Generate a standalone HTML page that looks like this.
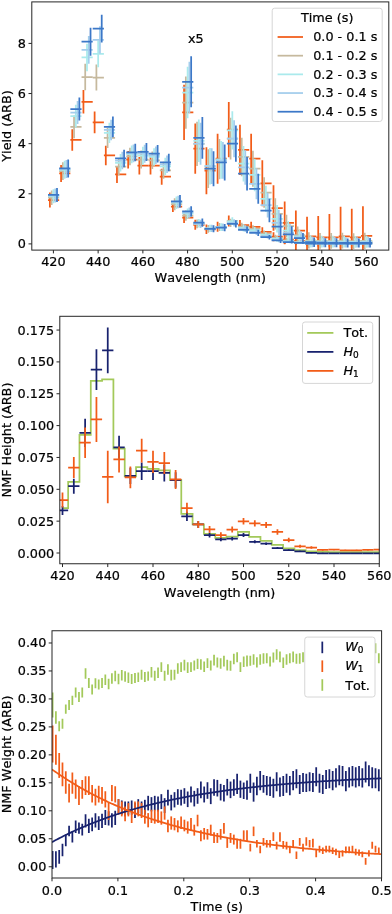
<!DOCTYPE html>
<html><head><meta charset="utf-8"><title>NMF spectra figure</title>
<style>
html,body{margin:0;padding:0;background:#fff;}
svg{display:block;font-family:'DejaVu Sans', 'Liberation Sans', sans-serif;fill:#000;}
svg text{fill:#000;stroke:#000;stroke-width:0.22px;font-kerning:none;}
</style></head><body>
<svg width="392" height="914" viewBox="0 0 392 914" font-family='"DejaVu Sans", "Liberation Sans", sans-serif'>
<rect x="0" y="0" width="392" height="914" fill="#fff"/>
<clipPath id="c1"><rect x="31.8" y="1.9" width="357.0" height="248.2"/></clipPath>
<g clip-path="url(#c1)">
<line x1="48.00" y1="200.05" x2="59.18" y2="200.05" stroke="#F25C18" stroke-width="1.75" />
<line x1="49.90" y1="207.56" x2="49.90" y2="192.53" stroke="#F25C18" stroke-width="1.75" />
<line x1="59.18" y1="173.48" x2="70.36" y2="173.48" stroke="#F25C18" stroke-width="1.75" />
<line x1="61.08" y1="182.00" x2="61.08" y2="164.96" stroke="#F25C18" stroke-width="1.75" />
<line x1="70.36" y1="139.90" x2="81.54" y2="139.90" stroke="#F25C18" stroke-width="1.75" />
<line x1="72.26" y1="150.68" x2="72.26" y2="129.13" stroke="#F25C18" stroke-width="1.75" />
<line x1="81.54" y1="101.81" x2="92.72" y2="101.81" stroke="#F25C18" stroke-width="1.75" />
<line x1="83.44" y1="113.59" x2="83.44" y2="90.03" stroke="#F25C18" stroke-width="1.75" />
<line x1="92.72" y1="122.36" x2="103.90" y2="122.36" stroke="#F25C18" stroke-width="1.75" />
<line x1="94.62" y1="133.13" x2="94.62" y2="111.58" stroke="#F25C18" stroke-width="1.75" />
<line x1="103.90" y1="155.44" x2="115.08" y2="155.44" stroke="#F25C18" stroke-width="1.75" />
<line x1="105.80" y1="165.21" x2="105.80" y2="145.66" stroke="#F25C18" stroke-width="1.75" />
<line x1="115.08" y1="174.48" x2="126.26" y2="174.48" stroke="#F25C18" stroke-width="1.75" />
<line x1="116.98" y1="183.00" x2="116.98" y2="165.96" stroke="#F25C18" stroke-width="1.75" />
<line x1="126.26" y1="159.70" x2="137.44" y2="159.70" stroke="#F25C18" stroke-width="1.75" />
<line x1="128.16" y1="168.47" x2="128.16" y2="150.93" stroke="#F25C18" stroke-width="1.75" />
<line x1="137.44" y1="165.71" x2="148.62" y2="165.71" stroke="#F25C18" stroke-width="1.75" />
<line x1="139.34" y1="174.48" x2="139.34" y2="156.94" stroke="#F25C18" stroke-width="1.75" />
<line x1="148.62" y1="165.71" x2="159.80" y2="165.71" stroke="#F25C18" stroke-width="1.75" />
<line x1="150.52" y1="174.48" x2="150.52" y2="156.94" stroke="#F25C18" stroke-width="1.75" />
<line x1="159.80" y1="176.74" x2="170.98" y2="176.74" stroke="#F25C18" stroke-width="1.75" />
<line x1="161.70" y1="184.76" x2="161.70" y2="168.72" stroke="#F25C18" stroke-width="1.75" />
<line x1="170.98" y1="206.56" x2="182.16" y2="206.56" stroke="#F25C18" stroke-width="1.75" />
<line x1="172.88" y1="212.07" x2="172.88" y2="201.05" stroke="#F25C18" stroke-width="1.75" />
<line x1="182.16" y1="217.59" x2="193.34" y2="217.59" stroke="#F25C18" stroke-width="1.75" />
<line x1="184.06" y1="223.10" x2="184.06" y2="212.07" stroke="#F25C18" stroke-width="1.75" />
<line x1="193.34" y1="224.85" x2="204.52" y2="224.85" stroke="#F25C18" stroke-width="1.75" />
<line x1="195.24" y1="229.87" x2="195.24" y2="219.84" stroke="#F25C18" stroke-width="1.75" />
<line x1="204.52" y1="229.26" x2="215.70" y2="229.26" stroke="#F25C18" stroke-width="1.75" />
<line x1="206.42" y1="233.98" x2="206.42" y2="224.55" stroke="#F25C18" stroke-width="1.75" />
<line x1="215.70" y1="226.86" x2="226.88" y2="226.86" stroke="#F25C18" stroke-width="1.75" />
<line x1="217.60" y1="231.87" x2="217.60" y2="221.85" stroke="#F25C18" stroke-width="1.75" />
<line x1="226.88" y1="221.05" x2="238.06" y2="221.05" stroke="#F25C18" stroke-width="1.75" />
<line x1="228.78" y1="226.56" x2="228.78" y2="215.53" stroke="#F25C18" stroke-width="1.75" />
<line x1="238.06" y1="225.11" x2="249.24" y2="225.11" stroke="#F25C18" stroke-width="1.75" />
<line x1="239.96" y1="230.12" x2="239.96" y2="220.09" stroke="#F25C18" stroke-width="1.75" />
<line x1="249.24" y1="226.86" x2="260.42" y2="226.86" stroke="#F25C18" stroke-width="1.75" />
<line x1="251.14" y1="231.87" x2="251.14" y2="221.85" stroke="#F25C18" stroke-width="1.75" />
<line x1="260.42" y1="231.77" x2="271.60" y2="231.77" stroke="#F25C18" stroke-width="1.75" />
<line x1="262.32" y1="236.38" x2="262.32" y2="227.16" stroke="#F25C18" stroke-width="1.75" />
<line x1="271.60" y1="236.73" x2="282.78" y2="236.73" stroke="#F25C18" stroke-width="1.75" />
<line x1="273.50" y1="241.29" x2="273.50" y2="232.17" stroke="#F25C18" stroke-width="1.75" />
<line x1="282.78" y1="239.69" x2="293.96" y2="239.69" stroke="#F25C18" stroke-width="1.75" />
<line x1="284.68" y1="243.95" x2="284.68" y2="235.43" stroke="#F25C18" stroke-width="1.75" />
<line x1="293.96" y1="241.24" x2="305.14" y2="241.24" stroke="#F25C18" stroke-width="1.75" />
<line x1="295.86" y1="245.25" x2="295.86" y2="237.23" stroke="#F25C18" stroke-width="1.75" />
<line x1="305.14" y1="242.40" x2="316.32" y2="242.40" stroke="#F25C18" stroke-width="1.75" />
<line x1="307.04" y1="246.31" x2="307.04" y2="238.49" stroke="#F25C18" stroke-width="1.75" />
<line x1="316.32" y1="242.60" x2="327.50" y2="242.60" stroke="#F25C18" stroke-width="1.75" />
<line x1="318.22" y1="246.86" x2="318.22" y2="238.34" stroke="#F25C18" stroke-width="1.75" />
<line x1="327.50" y1="242.60" x2="338.68" y2="242.60" stroke="#F25C18" stroke-width="1.75" />
<line x1="329.40" y1="247.26" x2="329.40" y2="237.94" stroke="#F25C18" stroke-width="1.75" />
<line x1="338.68" y1="242.40" x2="349.86" y2="242.40" stroke="#F25C18" stroke-width="1.75" />
<line x1="340.58" y1="248.31" x2="340.58" y2="236.48" stroke="#F25C18" stroke-width="1.75" />
<line x1="349.86" y1="242.60" x2="361.04" y2="242.60" stroke="#F25C18" stroke-width="1.75" />
<line x1="351.76" y1="248.31" x2="351.76" y2="236.88" stroke="#F25C18" stroke-width="1.75" />
<line x1="361.04" y1="242.30" x2="372.22" y2="242.30" stroke="#F25C18" stroke-width="1.75" />
<line x1="362.94" y1="248.21" x2="362.94" y2="236.38" stroke="#F25C18" stroke-width="1.75" />
<line x1="182.16" y1="112.34" x2="193.34" y2="112.34" stroke="#F25C18" stroke-width="1.75" />
<line x1="184.06" y1="139.90" x2="184.06" y2="84.77" stroke="#F25C18" stroke-width="1.75" />
<line x1="193.34" y1="148.67" x2="204.52" y2="148.67" stroke="#F25C18" stroke-width="1.75" />
<line x1="195.24" y1="173.73" x2="195.24" y2="123.61" stroke="#F25C18" stroke-width="1.75" />
<line x1="204.52" y1="170.72" x2="215.70" y2="170.72" stroke="#F25C18" stroke-width="1.75" />
<line x1="206.42" y1="194.28" x2="206.42" y2="147.17" stroke="#F25C18" stroke-width="1.75" />
<line x1="215.70" y1="158.70" x2="226.88" y2="158.70" stroke="#F25C18" stroke-width="1.75" />
<line x1="217.60" y1="183.76" x2="217.60" y2="133.64" stroke="#F25C18" stroke-width="1.75" />
<line x1="226.88" y1="129.63" x2="238.06" y2="129.63" stroke="#F25C18" stroke-width="1.75" />
<line x1="228.78" y1="157.19" x2="228.78" y2="102.06" stroke="#F25C18" stroke-width="1.75" />
<line x1="238.06" y1="149.93" x2="249.24" y2="149.93" stroke="#F25C18" stroke-width="1.75" />
<line x1="239.96" y1="174.99" x2="239.96" y2="124.87" stroke="#F25C18" stroke-width="1.75" />
<line x1="249.24" y1="158.70" x2="260.42" y2="158.70" stroke="#F25C18" stroke-width="1.75" />
<line x1="251.14" y1="183.76" x2="251.14" y2="133.64" stroke="#F25C18" stroke-width="1.75" />
<line x1="260.42" y1="183.25" x2="271.60" y2="183.25" stroke="#F25C18" stroke-width="1.75" />
<line x1="262.32" y1="206.31" x2="262.32" y2="160.20" stroke="#F25C18" stroke-width="1.75" />
<line x1="271.60" y1="208.06" x2="282.78" y2="208.06" stroke="#F25C18" stroke-width="1.75" />
<line x1="273.50" y1="230.87" x2="273.50" y2="185.26" stroke="#F25C18" stroke-width="1.75" />
<line x1="282.78" y1="222.85" x2="293.96" y2="222.85" stroke="#F25C18" stroke-width="1.75" />
<line x1="284.68" y1="244.15" x2="284.68" y2="201.55" stroke="#F25C18" stroke-width="1.75" />
<line x1="293.96" y1="230.62" x2="305.14" y2="230.62" stroke="#F25C18" stroke-width="1.75" />
<line x1="295.86" y1="250.67" x2="295.86" y2="210.57" stroke="#F25C18" stroke-width="1.75" />
<line x1="305.14" y1="236.38" x2="316.32" y2="236.38" stroke="#F25C18" stroke-width="1.75" />
<line x1="307.04" y1="255.93" x2="307.04" y2="216.84" stroke="#F25C18" stroke-width="1.75" />
<line x1="316.32" y1="237.38" x2="327.50" y2="237.38" stroke="#F25C18" stroke-width="1.75" />
<line x1="318.22" y1="258.69" x2="318.22" y2="216.08" stroke="#F25C18" stroke-width="1.75" />
<line x1="327.50" y1="237.38" x2="338.68" y2="237.38" stroke="#F25C18" stroke-width="1.75" />
<line x1="329.40" y1="260.69" x2="329.40" y2="214.08" stroke="#F25C18" stroke-width="1.75" />
<line x1="338.68" y1="236.38" x2="349.86" y2="236.38" stroke="#F25C18" stroke-width="1.75" />
<line x1="340.58" y1="265.95" x2="340.58" y2="206.81" stroke="#F25C18" stroke-width="1.75" />
<line x1="349.86" y1="237.38" x2="361.04" y2="237.38" stroke="#F25C18" stroke-width="1.75" />
<line x1="351.76" y1="265.95" x2="351.76" y2="208.82" stroke="#F25C18" stroke-width="1.75" />
<line x1="361.04" y1="235.88" x2="372.22" y2="235.88" stroke="#F25C18" stroke-width="1.75" />
<line x1="362.94" y1="265.45" x2="362.94" y2="206.31" stroke="#F25C18" stroke-width="1.75" />
<line x1="48.00" y1="197.73" x2="59.18" y2="197.73" stroke="#C6B99E" stroke-width="1.75" />
<line x1="51.67" y1="204.90" x2="51.67" y2="190.57" stroke="#C6B99E" stroke-width="1.75" />
<line x1="59.18" y1="171.23" x2="70.36" y2="171.23" stroke="#C6B99E" stroke-width="1.75" />
<line x1="62.85" y1="180.10" x2="62.85" y2="162.35" stroke="#C6B99E" stroke-width="1.75" />
<line x1="70.36" y1="126.87" x2="81.54" y2="126.87" stroke="#C6B99E" stroke-width="1.75" />
<line x1="74.04" y1="138.17" x2="74.04" y2="115.57" stroke="#C6B99E" stroke-width="1.75" />
<line x1="81.54" y1="77.00" x2="92.72" y2="77.00" stroke="#C6B99E" stroke-width="1.75" />
<line x1="85.22" y1="90.36" x2="85.22" y2="63.64" stroke="#C6B99E" stroke-width="1.75" />
<line x1="92.72" y1="77.50" x2="103.90" y2="77.50" stroke="#C6B99E" stroke-width="1.75" />
<line x1="96.40" y1="90.38" x2="96.40" y2="64.62" stroke="#C6B99E" stroke-width="1.75" />
<line x1="103.90" y1="137.90" x2="115.08" y2="137.90" stroke="#C6B99E" stroke-width="1.75" />
<line x1="107.58" y1="148.02" x2="107.58" y2="127.77" stroke="#C6B99E" stroke-width="1.75" />
<line x1="115.08" y1="166.72" x2="126.26" y2="166.72" stroke="#C6B99E" stroke-width="1.75" />
<line x1="118.76" y1="175.41" x2="118.76" y2="158.02" stroke="#C6B99E" stroke-width="1.75" />
<line x1="126.26" y1="156.43" x2="137.44" y2="156.43" stroke="#C6B99E" stroke-width="1.75" />
<line x1="129.94" y1="165.20" x2="129.94" y2="147.66" stroke="#C6B99E" stroke-width="1.75" />
<line x1="137.44" y1="159.51" x2="148.62" y2="159.51" stroke="#C6B99E" stroke-width="1.75" />
<line x1="141.12" y1="168.46" x2="141.12" y2="150.56" stroke="#C6B99E" stroke-width="1.75" />
<line x1="148.62" y1="160.30" x2="159.80" y2="160.30" stroke="#C6B99E" stroke-width="1.75" />
<line x1="152.30" y1="169.07" x2="152.30" y2="151.53" stroke="#C6B99E" stroke-width="1.75" />
<line x1="159.80" y1="170.31" x2="170.98" y2="170.31" stroke="#C6B99E" stroke-width="1.75" />
<line x1="163.48" y1="178.86" x2="163.48" y2="161.77" stroke="#C6B99E" stroke-width="1.75" />
<line x1="170.98" y1="204.19" x2="182.16" y2="204.19" stroke="#C6B99E" stroke-width="1.75" />
<line x1="174.66" y1="210.23" x2="174.66" y2="198.15" stroke="#C6B99E" stroke-width="1.75" />
<line x1="182.16" y1="215.63" x2="193.34" y2="215.63" stroke="#C6B99E" stroke-width="1.75" />
<line x1="185.84" y1="220.86" x2="185.84" y2="210.40" stroke="#C6B99E" stroke-width="1.75" />
<line x1="193.34" y1="223.88" x2="204.52" y2="223.88" stroke="#C6B99E" stroke-width="1.75" />
<line x1="197.02" y1="228.30" x2="197.02" y2="219.47" stroke="#C6B99E" stroke-width="1.75" />
<line x1="204.52" y1="228.86" x2="215.70" y2="228.86" stroke="#C6B99E" stroke-width="1.75" />
<line x1="208.19" y1="232.73" x2="208.19" y2="224.99" stroke="#C6B99E" stroke-width="1.75" />
<line x1="215.70" y1="226.96" x2="226.88" y2="226.96" stroke="#C6B99E" stroke-width="1.75" />
<line x1="219.38" y1="230.99" x2="219.38" y2="222.93" stroke="#C6B99E" stroke-width="1.75" />
<line x1="226.88" y1="222.85" x2="238.06" y2="222.85" stroke="#C6B99E" stroke-width="1.75" />
<line x1="230.56" y1="227.03" x2="230.56" y2="218.67" stroke="#C6B99E" stroke-width="1.75" />
<line x1="238.06" y1="226.51" x2="249.24" y2="226.51" stroke="#C6B99E" stroke-width="1.75" />
<line x1="241.74" y1="230.36" x2="241.74" y2="222.65" stroke="#C6B99E" stroke-width="1.75" />
<line x1="249.24" y1="228.86" x2="260.42" y2="228.86" stroke="#C6B99E" stroke-width="1.75" />
<line x1="252.92" y1="232.47" x2="252.92" y2="225.26" stroke="#C6B99E" stroke-width="1.75" />
<line x1="260.42" y1="233.63" x2="271.60" y2="233.63" stroke="#C6B99E" stroke-width="1.75" />
<line x1="264.09" y1="236.66" x2="264.09" y2="230.59" stroke="#C6B99E" stroke-width="1.75" />
<line x1="271.60" y1="237.89" x2="282.78" y2="237.89" stroke="#C6B99E" stroke-width="1.75" />
<line x1="275.27" y1="241.01" x2="275.27" y2="234.76" stroke="#C6B99E" stroke-width="1.75" />
<line x1="282.78" y1="240.34" x2="293.96" y2="240.34" stroke="#C6B99E" stroke-width="1.75" />
<line x1="286.45" y1="242.62" x2="286.45" y2="238.06" stroke="#C6B99E" stroke-width="1.75" />
<line x1="293.96" y1="242.15" x2="305.14" y2="242.15" stroke="#C6B99E" stroke-width="1.75" />
<line x1="297.63" y1="243.87" x2="297.63" y2="240.42" stroke="#C6B99E" stroke-width="1.75" />
<line x1="305.14" y1="243.20" x2="316.32" y2="243.20" stroke="#C6B99E" stroke-width="1.75" />
<line x1="308.81" y1="244.83" x2="308.81" y2="241.57" stroke="#C6B99E" stroke-width="1.75" />
<line x1="316.32" y1="243.30" x2="327.50" y2="243.30" stroke="#C6B99E" stroke-width="1.75" />
<line x1="319.99" y1="244.88" x2="319.99" y2="241.72" stroke="#C6B99E" stroke-width="1.75" />
<line x1="327.50" y1="243.30" x2="338.68" y2="243.30" stroke="#C6B99E" stroke-width="1.75" />
<line x1="331.17" y1="244.88" x2="331.17" y2="241.72" stroke="#C6B99E" stroke-width="1.75" />
<line x1="338.68" y1="243.25" x2="349.86" y2="243.25" stroke="#C6B99E" stroke-width="1.75" />
<line x1="342.35" y1="244.83" x2="342.35" y2="241.67" stroke="#C6B99E" stroke-width="1.75" />
<line x1="349.86" y1="243.35" x2="361.04" y2="243.35" stroke="#C6B99E" stroke-width="1.75" />
<line x1="353.53" y1="244.93" x2="353.53" y2="241.77" stroke="#C6B99E" stroke-width="1.75" />
<line x1="361.04" y1="243.30" x2="372.22" y2="243.30" stroke="#C6B99E" stroke-width="1.75" />
<line x1="364.71" y1="244.93" x2="364.71" y2="241.67" stroke="#C6B99E" stroke-width="1.75" />
<line x1="182.16" y1="102.56" x2="193.34" y2="102.56" stroke="#C6B99E" stroke-width="1.75" />
<line x1="185.84" y1="128.72" x2="185.84" y2="76.40" stroke="#C6B99E" stroke-width="1.75" />
<line x1="193.34" y1="143.82" x2="204.52" y2="143.82" stroke="#C6B99E" stroke-width="1.75" />
<line x1="197.02" y1="165.90" x2="197.02" y2="121.75" stroke="#C6B99E" stroke-width="1.75" />
<line x1="204.52" y1="168.72" x2="215.70" y2="168.72" stroke="#C6B99E" stroke-width="1.75" />
<line x1="208.19" y1="188.07" x2="208.19" y2="149.37" stroke="#C6B99E" stroke-width="1.75" />
<line x1="215.70" y1="159.20" x2="226.88" y2="159.20" stroke="#C6B99E" stroke-width="1.75" />
<line x1="219.38" y1="179.35" x2="219.38" y2="139.05" stroke="#C6B99E" stroke-width="1.75" />
<line x1="226.88" y1="138.65" x2="238.06" y2="138.65" stroke="#C6B99E" stroke-width="1.75" />
<line x1="230.56" y1="159.55" x2="230.56" y2="117.75" stroke="#C6B99E" stroke-width="1.75" />
<line x1="238.06" y1="156.94" x2="249.24" y2="156.94" stroke="#C6B99E" stroke-width="1.75" />
<line x1="241.74" y1="176.21" x2="241.74" y2="137.67" stroke="#C6B99E" stroke-width="1.75" />
<line x1="249.24" y1="168.72" x2="260.42" y2="168.72" stroke="#C6B99E" stroke-width="1.75" />
<line x1="252.92" y1="186.76" x2="252.92" y2="150.68" stroke="#C6B99E" stroke-width="1.75" />
<line x1="260.42" y1="192.53" x2="271.60" y2="192.53" stroke="#C6B99E" stroke-width="1.75" />
<line x1="264.09" y1="207.69" x2="264.09" y2="177.37" stroke="#C6B99E" stroke-width="1.75" />
<line x1="271.60" y1="213.83" x2="282.78" y2="213.83" stroke="#C6B99E" stroke-width="1.75" />
<line x1="275.27" y1="229.44" x2="275.27" y2="198.22" stroke="#C6B99E" stroke-width="1.75" />
<line x1="282.78" y1="226.11" x2="293.96" y2="226.11" stroke="#C6B99E" stroke-width="1.75" />
<line x1="286.45" y1="237.51" x2="286.45" y2="214.71" stroke="#C6B99E" stroke-width="1.75" />
<line x1="293.96" y1="235.13" x2="305.14" y2="235.13" stroke="#C6B99E" stroke-width="1.75" />
<line x1="297.63" y1="243.77" x2="297.63" y2="226.48" stroke="#C6B99E" stroke-width="1.75" />
<line x1="305.14" y1="240.39" x2="316.32" y2="240.39" stroke="#C6B99E" stroke-width="1.75" />
<line x1="308.81" y1="248.54" x2="308.81" y2="232.25" stroke="#C6B99E" stroke-width="1.75" />
<line x1="316.32" y1="240.89" x2="327.50" y2="240.89" stroke="#C6B99E" stroke-width="1.75" />
<line x1="319.99" y1="248.79" x2="319.99" y2="233.00" stroke="#C6B99E" stroke-width="1.75" />
<line x1="327.50" y1="240.89" x2="338.68" y2="240.89" stroke="#C6B99E" stroke-width="1.75" />
<line x1="331.17" y1="248.79" x2="331.17" y2="233.00" stroke="#C6B99E" stroke-width="1.75" />
<line x1="338.68" y1="240.64" x2="349.86" y2="240.64" stroke="#C6B99E" stroke-width="1.75" />
<line x1="342.35" y1="248.54" x2="342.35" y2="232.75" stroke="#C6B99E" stroke-width="1.75" />
<line x1="349.86" y1="241.14" x2="361.04" y2="241.14" stroke="#C6B99E" stroke-width="1.75" />
<line x1="353.53" y1="249.04" x2="353.53" y2="233.25" stroke="#C6B99E" stroke-width="1.75" />
<line x1="361.04" y1="240.89" x2="372.22" y2="240.89" stroke="#C6B99E" stroke-width="1.75" />
<line x1="364.71" y1="249.04" x2="364.71" y2="232.75" stroke="#C6B99E" stroke-width="1.75" />
<line x1="48.00" y1="196.29" x2="59.18" y2="196.29" stroke="#AAEAEC" stroke-width="1.75" />
<line x1="53.45" y1="203.37" x2="53.45" y2="189.22" stroke="#AAEAEC" stroke-width="1.75" />
<line x1="59.18" y1="169.82" x2="70.36" y2="169.82" stroke="#AAEAEC" stroke-width="1.75" />
<line x1="64.63" y1="178.78" x2="64.63" y2="160.86" stroke="#AAEAEC" stroke-width="1.75" />
<line x1="70.36" y1="116.09" x2="81.54" y2="116.09" stroke="#AAEAEC" stroke-width="1.75" />
<line x1="75.81" y1="127.53" x2="75.81" y2="104.66" stroke="#AAEAEC" stroke-width="1.75" />
<line x1="81.54" y1="57.45" x2="92.72" y2="57.45" stroke="#AAEAEC" stroke-width="1.75" />
<line x1="86.99" y1="71.22" x2="86.99" y2="43.69" stroke="#AAEAEC" stroke-width="1.75" />
<line x1="92.72" y1="53.95" x2="103.90" y2="53.95" stroke="#AAEAEC" stroke-width="1.75" />
<line x1="98.17" y1="67.37" x2="98.17" y2="40.52" stroke="#AAEAEC" stroke-width="1.75" />
<line x1="103.90" y1="132.88" x2="115.08" y2="132.88" stroke="#AAEAEC" stroke-width="1.75" />
<line x1="109.35" y1="143.10" x2="109.35" y2="122.67" stroke="#AAEAEC" stroke-width="1.75" />
<line x1="115.08" y1="162.78" x2="126.26" y2="162.78" stroke="#AAEAEC" stroke-width="1.75" />
<line x1="120.53" y1="171.52" x2="120.53" y2="154.03" stroke="#AAEAEC" stroke-width="1.75" />
<line x1="126.26" y1="154.39" x2="137.44" y2="154.39" stroke="#AAEAEC" stroke-width="1.75" />
<line x1="131.71" y1="163.16" x2="131.71" y2="145.62" stroke="#AAEAEC" stroke-width="1.75" />
<line x1="137.44" y1="155.65" x2="148.62" y2="155.65" stroke="#AAEAEC" stroke-width="1.75" />
<line x1="142.89" y1="164.64" x2="142.89" y2="146.66" stroke="#AAEAEC" stroke-width="1.75" />
<line x1="148.62" y1="156.93" x2="159.80" y2="156.93" stroke="#AAEAEC" stroke-width="1.75" />
<line x1="154.07" y1="165.70" x2="154.07" y2="148.16" stroke="#AAEAEC" stroke-width="1.75" />
<line x1="159.80" y1="166.31" x2="170.98" y2="166.31" stroke="#AAEAEC" stroke-width="1.75" />
<line x1="165.25" y1="174.99" x2="165.25" y2="157.63" stroke="#AAEAEC" stroke-width="1.75" />
<line x1="170.98" y1="202.72" x2="182.16" y2="202.72" stroke="#AAEAEC" stroke-width="1.75" />
<line x1="176.43" y1="208.89" x2="176.43" y2="196.54" stroke="#AAEAEC" stroke-width="1.75" />
<line x1="182.16" y1="213.63" x2="193.34" y2="213.63" stroke="#AAEAEC" stroke-width="1.75" />
<line x1="187.61" y1="218.79" x2="187.61" y2="208.47" stroke="#AAEAEC" stroke-width="1.75" />
<line x1="193.34" y1="223.28" x2="204.52" y2="223.28" stroke="#AAEAEC" stroke-width="1.75" />
<line x1="198.79" y1="227.54" x2="198.79" y2="219.02" stroke="#AAEAEC" stroke-width="1.75" />
<line x1="204.52" y1="228.36" x2="215.70" y2="228.36" stroke="#AAEAEC" stroke-width="1.75" />
<line x1="209.97" y1="232.02" x2="209.97" y2="224.71" stroke="#AAEAEC" stroke-width="1.75" />
<line x1="215.70" y1="227.11" x2="226.88" y2="227.11" stroke="#AAEAEC" stroke-width="1.75" />
<line x1="221.15" y1="230.89" x2="221.15" y2="223.33" stroke="#AAEAEC" stroke-width="1.75" />
<line x1="226.88" y1="221.20" x2="238.06" y2="221.20" stroke="#AAEAEC" stroke-width="1.75" />
<line x1="232.33" y1="225.03" x2="232.33" y2="217.36" stroke="#AAEAEC" stroke-width="1.75" />
<line x1="238.06" y1="227.86" x2="249.24" y2="227.86" stroke="#AAEAEC" stroke-width="1.75" />
<line x1="243.51" y1="231.42" x2="243.51" y2="224.31" stroke="#AAEAEC" stroke-width="1.75" />
<line x1="249.24" y1="230.12" x2="260.42" y2="230.12" stroke="#AAEAEC" stroke-width="1.75" />
<line x1="254.69" y1="233.36" x2="254.69" y2="226.87" stroke="#AAEAEC" stroke-width="1.75" />
<line x1="260.42" y1="234.88" x2="271.60" y2="234.88" stroke="#AAEAEC" stroke-width="1.75" />
<line x1="265.87" y1="237.50" x2="265.87" y2="232.25" stroke="#AAEAEC" stroke-width="1.75" />
<line x1="271.60" y1="238.89" x2="282.78" y2="238.89" stroke="#AAEAEC" stroke-width="1.75" />
<line x1="277.05" y1="241.64" x2="277.05" y2="236.14" stroke="#AAEAEC" stroke-width="1.75" />
<line x1="282.78" y1="241.24" x2="293.96" y2="241.24" stroke="#AAEAEC" stroke-width="1.75" />
<line x1="288.23" y1="243.12" x2="288.23" y2="239.37" stroke="#AAEAEC" stroke-width="1.75" />
<line x1="293.96" y1="242.40" x2="305.14" y2="242.40" stroke="#AAEAEC" stroke-width="1.75" />
<line x1="299.41" y1="243.72" x2="299.41" y2="241.07" stroke="#AAEAEC" stroke-width="1.75" />
<line x1="305.14" y1="243.40" x2="316.32" y2="243.40" stroke="#AAEAEC" stroke-width="1.75" />
<line x1="310.59" y1="244.62" x2="310.59" y2="242.18" stroke="#AAEAEC" stroke-width="1.75" />
<line x1="316.32" y1="243.45" x2="327.50" y2="243.45" stroke="#AAEAEC" stroke-width="1.75" />
<line x1="321.77" y1="244.62" x2="321.77" y2="242.28" stroke="#AAEAEC" stroke-width="1.75" />
<line x1="327.50" y1="243.45" x2="338.68" y2="243.45" stroke="#AAEAEC" stroke-width="1.75" />
<line x1="332.95" y1="244.62" x2="332.95" y2="242.28" stroke="#AAEAEC" stroke-width="1.75" />
<line x1="338.68" y1="243.45" x2="349.86" y2="243.45" stroke="#AAEAEC" stroke-width="1.75" />
<line x1="344.13" y1="244.62" x2="344.13" y2="242.28" stroke="#AAEAEC" stroke-width="1.75" />
<line x1="349.86" y1="243.50" x2="361.04" y2="243.50" stroke="#AAEAEC" stroke-width="1.75" />
<line x1="355.31" y1="244.67" x2="355.31" y2="242.33" stroke="#AAEAEC" stroke-width="1.75" />
<line x1="361.04" y1="243.45" x2="372.22" y2="243.45" stroke="#AAEAEC" stroke-width="1.75" />
<line x1="366.49" y1="244.67" x2="366.49" y2="242.23" stroke="#AAEAEC" stroke-width="1.75" />
<line x1="182.16" y1="92.54" x2="193.34" y2="92.54" stroke="#AAEAEC" stroke-width="1.75" />
<line x1="187.61" y1="118.34" x2="187.61" y2="66.74" stroke="#AAEAEC" stroke-width="1.75" />
<line x1="193.34" y1="140.81" x2="204.52" y2="140.81" stroke="#AAEAEC" stroke-width="1.75" />
<line x1="198.79" y1="162.12" x2="198.79" y2="119.49" stroke="#AAEAEC" stroke-width="1.75" />
<line x1="204.52" y1="166.21" x2="215.70" y2="166.21" stroke="#AAEAEC" stroke-width="1.75" />
<line x1="209.97" y1="184.48" x2="209.97" y2="147.95" stroke="#AAEAEC" stroke-width="1.75" />
<line x1="215.70" y1="159.95" x2="226.88" y2="159.95" stroke="#AAEAEC" stroke-width="1.75" />
<line x1="221.15" y1="178.83" x2="221.15" y2="141.06" stroke="#AAEAEC" stroke-width="1.75" />
<line x1="226.88" y1="130.38" x2="238.06" y2="130.38" stroke="#AAEAEC" stroke-width="1.75" />
<line x1="232.33" y1="149.56" x2="232.33" y2="111.19" stroke="#AAEAEC" stroke-width="1.75" />
<line x1="238.06" y1="163.71" x2="249.24" y2="163.71" stroke="#AAEAEC" stroke-width="1.75" />
<line x1="243.51" y1="181.49" x2="243.51" y2="145.93" stroke="#AAEAEC" stroke-width="1.75" />
<line x1="249.24" y1="174.99" x2="260.42" y2="174.99" stroke="#AAEAEC" stroke-width="1.75" />
<line x1="254.69" y1="191.22" x2="254.69" y2="158.75" stroke="#AAEAEC" stroke-width="1.75" />
<line x1="260.42" y1="198.79" x2="271.60" y2="198.79" stroke="#AAEAEC" stroke-width="1.75" />
<line x1="265.87" y1="211.92" x2="265.87" y2="185.66" stroke="#AAEAEC" stroke-width="1.75" />
<line x1="271.60" y1="218.84" x2="282.78" y2="218.84" stroke="#AAEAEC" stroke-width="1.75" />
<line x1="277.05" y1="232.60" x2="277.05" y2="205.08" stroke="#AAEAEC" stroke-width="1.75" />
<line x1="282.78" y1="230.62" x2="293.96" y2="230.62" stroke="#AAEAEC" stroke-width="1.75" />
<line x1="288.23" y1="239.99" x2="288.23" y2="221.25" stroke="#AAEAEC" stroke-width="1.75" />
<line x1="293.96" y1="236.38" x2="305.14" y2="236.38" stroke="#AAEAEC" stroke-width="1.75" />
<line x1="299.41" y1="243.00" x2="299.41" y2="229.77" stroke="#AAEAEC" stroke-width="1.75" />
<line x1="305.14" y1="241.39" x2="316.32" y2="241.39" stroke="#AAEAEC" stroke-width="1.75" />
<line x1="310.59" y1="247.51" x2="310.59" y2="235.28" stroke="#AAEAEC" stroke-width="1.75" />
<line x1="316.32" y1="241.64" x2="327.50" y2="241.64" stroke="#AAEAEC" stroke-width="1.75" />
<line x1="321.77" y1="247.51" x2="321.77" y2="235.78" stroke="#AAEAEC" stroke-width="1.75" />
<line x1="327.50" y1="241.64" x2="338.68" y2="241.64" stroke="#AAEAEC" stroke-width="1.75" />
<line x1="332.95" y1="247.51" x2="332.95" y2="235.78" stroke="#AAEAEC" stroke-width="1.75" />
<line x1="338.68" y1="241.64" x2="349.86" y2="241.64" stroke="#AAEAEC" stroke-width="1.75" />
<line x1="344.13" y1="247.51" x2="344.13" y2="235.78" stroke="#AAEAEC" stroke-width="1.75" />
<line x1="349.86" y1="241.90" x2="361.04" y2="241.90" stroke="#AAEAEC" stroke-width="1.75" />
<line x1="355.31" y1="247.76" x2="355.31" y2="236.03" stroke="#AAEAEC" stroke-width="1.75" />
<line x1="361.04" y1="241.64" x2="372.22" y2="241.64" stroke="#AAEAEC" stroke-width="1.75" />
<line x1="366.49" y1="247.76" x2="366.49" y2="235.53" stroke="#AAEAEC" stroke-width="1.75" />
<line x1="48.00" y1="195.58" x2="59.18" y2="195.58" stroke="#A3CDEC" stroke-width="1.75" />
<line x1="55.22" y1="202.62" x2="55.22" y2="188.53" stroke="#A3CDEC" stroke-width="1.75" />
<line x1="59.18" y1="169.12" x2="70.36" y2="169.12" stroke="#A3CDEC" stroke-width="1.75" />
<line x1="66.41" y1="178.12" x2="66.41" y2="160.12" stroke="#A3CDEC" stroke-width="1.75" />
<line x1="70.36" y1="112.59" x2="81.54" y2="112.59" stroke="#A3CDEC" stroke-width="1.75" />
<line x1="77.59" y1="124.08" x2="77.59" y2="101.10" stroke="#A3CDEC" stroke-width="1.75" />
<line x1="81.54" y1="49.94" x2="92.72" y2="49.94" stroke="#A3CDEC" stroke-width="1.75" />
<line x1="88.77" y1="63.86" x2="88.77" y2="36.01" stroke="#A3CDEC" stroke-width="1.75" />
<line x1="92.72" y1="39.91" x2="103.90" y2="39.91" stroke="#A3CDEC" stroke-width="1.75" />
<line x1="99.95" y1="53.54" x2="99.95" y2="26.28" stroke="#A3CDEC" stroke-width="1.75" />
<line x1="103.90" y1="129.88" x2="115.08" y2="129.88" stroke="#A3CDEC" stroke-width="1.75" />
<line x1="111.13" y1="140.13" x2="111.13" y2="119.63" stroke="#A3CDEC" stroke-width="1.75" />
<line x1="115.08" y1="160.53" x2="126.26" y2="160.53" stroke="#A3CDEC" stroke-width="1.75" />
<line x1="122.31" y1="169.29" x2="122.31" y2="151.77" stroke="#A3CDEC" stroke-width="1.75" />
<line x1="126.26" y1="153.38" x2="137.44" y2="153.38" stroke="#A3CDEC" stroke-width="1.75" />
<line x1="133.48" y1="162.15" x2="133.48" y2="144.60" stroke="#A3CDEC" stroke-width="1.75" />
<line x1="137.44" y1="153.72" x2="148.62" y2="153.72" stroke="#A3CDEC" stroke-width="1.75" />
<line x1="144.66" y1="162.73" x2="144.66" y2="144.71" stroke="#A3CDEC" stroke-width="1.75" />
<line x1="148.62" y1="155.25" x2="159.80" y2="155.25" stroke="#A3CDEC" stroke-width="1.75" />
<line x1="155.84" y1="164.02" x2="155.84" y2="146.48" stroke="#A3CDEC" stroke-width="1.75" />
<line x1="159.80" y1="164.31" x2="170.98" y2="164.31" stroke="#A3CDEC" stroke-width="1.75" />
<line x1="167.03" y1="173.05" x2="167.03" y2="155.58" stroke="#A3CDEC" stroke-width="1.75" />
<line x1="170.98" y1="201.98" x2="182.16" y2="201.98" stroke="#A3CDEC" stroke-width="1.75" />
<line x1="178.20" y1="208.21" x2="178.20" y2="195.75" stroke="#A3CDEC" stroke-width="1.75" />
<line x1="182.16" y1="212.63" x2="193.34" y2="212.63" stroke="#A3CDEC" stroke-width="1.75" />
<line x1="189.38" y1="217.76" x2="189.38" y2="207.49" stroke="#A3CDEC" stroke-width="1.75" />
<line x1="193.34" y1="223.85" x2="204.52" y2="223.85" stroke="#A3CDEC" stroke-width="1.75" />
<line x1="200.56" y1="228.05" x2="200.56" y2="219.65" stroke="#A3CDEC" stroke-width="1.75" />
<line x1="204.52" y1="228.36" x2="215.70" y2="228.36" stroke="#A3CDEC" stroke-width="1.75" />
<line x1="211.74" y1="231.93" x2="211.74" y2="224.79" stroke="#A3CDEC" stroke-width="1.75" />
<line x1="215.70" y1="227.21" x2="226.88" y2="227.21" stroke="#A3CDEC" stroke-width="1.75" />
<line x1="222.92" y1="230.89" x2="222.92" y2="223.53" stroke="#A3CDEC" stroke-width="1.75" />
<line x1="226.88" y1="222.85" x2="238.06" y2="222.85" stroke="#A3CDEC" stroke-width="1.75" />
<line x1="234.10" y1="226.55" x2="234.10" y2="219.15" stroke="#A3CDEC" stroke-width="1.75" />
<line x1="238.06" y1="228.61" x2="249.24" y2="228.61" stroke="#A3CDEC" stroke-width="1.75" />
<line x1="245.28" y1="232.05" x2="245.28" y2="225.17" stroke="#A3CDEC" stroke-width="1.75" />
<line x1="249.24" y1="231.87" x2="260.42" y2="231.87" stroke="#A3CDEC" stroke-width="1.75" />
<line x1="256.47" y1="234.98" x2="256.47" y2="228.76" stroke="#A3CDEC" stroke-width="1.75" />
<line x1="260.42" y1="236.13" x2="271.60" y2="236.13" stroke="#A3CDEC" stroke-width="1.75" />
<line x1="267.64" y1="238.60" x2="267.64" y2="233.66" stroke="#A3CDEC" stroke-width="1.75" />
<line x1="271.60" y1="239.69" x2="282.78" y2="239.69" stroke="#A3CDEC" stroke-width="1.75" />
<line x1="278.82" y1="242.30" x2="278.82" y2="237.08" stroke="#A3CDEC" stroke-width="1.75" />
<line x1="282.78" y1="241.64" x2="293.96" y2="241.64" stroke="#A3CDEC" stroke-width="1.75" />
<line x1="290.00" y1="243.36" x2="290.00" y2="239.93" stroke="#A3CDEC" stroke-width="1.75" />
<line x1="293.96" y1="242.60" x2="305.14" y2="242.60" stroke="#A3CDEC" stroke-width="1.75" />
<line x1="301.18" y1="243.76" x2="301.18" y2="241.43" stroke="#A3CDEC" stroke-width="1.75" />
<line x1="305.14" y1="243.50" x2="316.32" y2="243.50" stroke="#A3CDEC" stroke-width="1.75" />
<line x1="312.36" y1="244.56" x2="312.36" y2="242.43" stroke="#A3CDEC" stroke-width="1.75" />
<line x1="316.32" y1="243.55" x2="327.50" y2="243.55" stroke="#A3CDEC" stroke-width="1.75" />
<line x1="323.54" y1="244.56" x2="323.54" y2="242.53" stroke="#A3CDEC" stroke-width="1.75" />
<line x1="327.50" y1="243.55" x2="338.68" y2="243.55" stroke="#A3CDEC" stroke-width="1.75" />
<line x1="334.72" y1="244.56" x2="334.72" y2="242.53" stroke="#A3CDEC" stroke-width="1.75" />
<line x1="338.68" y1="243.60" x2="349.86" y2="243.60" stroke="#A3CDEC" stroke-width="1.75" />
<line x1="345.90" y1="244.61" x2="345.90" y2="242.58" stroke="#A3CDEC" stroke-width="1.75" />
<line x1="349.86" y1="243.60" x2="361.04" y2="243.60" stroke="#A3CDEC" stroke-width="1.75" />
<line x1="357.08" y1="244.61" x2="357.08" y2="242.58" stroke="#A3CDEC" stroke-width="1.75" />
<line x1="361.04" y1="243.55" x2="372.22" y2="243.55" stroke="#A3CDEC" stroke-width="1.75" />
<line x1="368.26" y1="244.61" x2="368.26" y2="242.48" stroke="#A3CDEC" stroke-width="1.75" />
<line x1="182.16" y1="87.53" x2="193.34" y2="87.53" stroke="#A3CDEC" stroke-width="1.75" />
<line x1="189.38" y1="113.19" x2="189.38" y2="61.86" stroke="#A3CDEC" stroke-width="1.75" />
<line x1="193.34" y1="143.66" x2="204.52" y2="143.66" stroke="#A3CDEC" stroke-width="1.75" />
<line x1="200.56" y1="164.67" x2="200.56" y2="122.65" stroke="#A3CDEC" stroke-width="1.75" />
<line x1="204.52" y1="166.21" x2="215.70" y2="166.21" stroke="#A3CDEC" stroke-width="1.75" />
<line x1="211.74" y1="184.06" x2="211.74" y2="148.37" stroke="#A3CDEC" stroke-width="1.75" />
<line x1="215.70" y1="160.45" x2="226.88" y2="160.45" stroke="#A3CDEC" stroke-width="1.75" />
<line x1="222.92" y1="178.84" x2="222.92" y2="142.06" stroke="#A3CDEC" stroke-width="1.75" />
<line x1="226.88" y1="138.65" x2="238.06" y2="138.65" stroke="#A3CDEC" stroke-width="1.75" />
<line x1="234.10" y1="157.17" x2="234.10" y2="120.13" stroke="#A3CDEC" stroke-width="1.75" />
<line x1="238.06" y1="167.47" x2="249.24" y2="167.47" stroke="#A3CDEC" stroke-width="1.75" />
<line x1="245.28" y1="184.67" x2="245.28" y2="150.26" stroke="#A3CDEC" stroke-width="1.75" />
<line x1="249.24" y1="183.76" x2="260.42" y2="183.76" stroke="#A3CDEC" stroke-width="1.75" />
<line x1="256.47" y1="199.29" x2="256.47" y2="168.22" stroke="#A3CDEC" stroke-width="1.75" />
<line x1="260.42" y1="205.06" x2="271.60" y2="205.06" stroke="#A3CDEC" stroke-width="1.75" />
<line x1="267.64" y1="217.40" x2="267.64" y2="192.71" stroke="#A3CDEC" stroke-width="1.75" />
<line x1="271.60" y1="222.85" x2="282.78" y2="222.85" stroke="#A3CDEC" stroke-width="1.75" />
<line x1="278.82" y1="235.89" x2="278.82" y2="209.81" stroke="#A3CDEC" stroke-width="1.75" />
<line x1="282.78" y1="232.62" x2="293.96" y2="232.62" stroke="#A3CDEC" stroke-width="1.75" />
<line x1="290.00" y1="241.21" x2="290.00" y2="224.04" stroke="#A3CDEC" stroke-width="1.75" />
<line x1="293.96" y1="237.38" x2="305.14" y2="237.38" stroke="#A3CDEC" stroke-width="1.75" />
<line x1="301.18" y1="243.21" x2="301.18" y2="231.56" stroke="#A3CDEC" stroke-width="1.75" />
<line x1="305.14" y1="241.90" x2="316.32" y2="241.90" stroke="#A3CDEC" stroke-width="1.75" />
<line x1="312.36" y1="247.22" x2="312.36" y2="236.57" stroke="#A3CDEC" stroke-width="1.75" />
<line x1="316.32" y1="242.15" x2="327.50" y2="242.15" stroke="#A3CDEC" stroke-width="1.75" />
<line x1="323.54" y1="247.22" x2="323.54" y2="237.07" stroke="#A3CDEC" stroke-width="1.75" />
<line x1="327.50" y1="242.15" x2="338.68" y2="242.15" stroke="#A3CDEC" stroke-width="1.75" />
<line x1="334.72" y1="247.22" x2="334.72" y2="237.07" stroke="#A3CDEC" stroke-width="1.75" />
<line x1="338.68" y1="242.40" x2="349.86" y2="242.40" stroke="#A3CDEC" stroke-width="1.75" />
<line x1="345.90" y1="247.47" x2="345.90" y2="237.32" stroke="#A3CDEC" stroke-width="1.75" />
<line x1="349.86" y1="242.40" x2="361.04" y2="242.40" stroke="#A3CDEC" stroke-width="1.75" />
<line x1="357.08" y1="247.47" x2="357.08" y2="237.32" stroke="#A3CDEC" stroke-width="1.75" />
<line x1="361.04" y1="242.15" x2="372.22" y2="242.15" stroke="#A3CDEC" stroke-width="1.75" />
<line x1="368.26" y1="247.47" x2="368.26" y2="236.82" stroke="#A3CDEC" stroke-width="1.75" />
<line x1="48.00" y1="194.91" x2="59.18" y2="194.91" stroke="#3C78C8" stroke-width="1.75" />
<line x1="57.00" y1="201.92" x2="57.00" y2="187.89" stroke="#3C78C8" stroke-width="1.75" />
<line x1="59.18" y1="168.47" x2="70.36" y2="168.47" stroke="#3C78C8" stroke-width="1.75" />
<line x1="68.18" y1="177.49" x2="68.18" y2="159.45" stroke="#3C78C8" stroke-width="1.75" />
<line x1="70.36" y1="109.08" x2="81.54" y2="109.08" stroke="#3C78C8" stroke-width="1.75" />
<line x1="79.36" y1="120.60" x2="79.36" y2="97.55" stroke="#3C78C8" stroke-width="1.75" />
<line x1="81.54" y1="41.67" x2="92.72" y2="41.67" stroke="#3C78C8" stroke-width="1.75" />
<line x1="90.54" y1="55.70" x2="90.54" y2="27.63" stroke="#3C78C8" stroke-width="1.75" />
<line x1="92.72" y1="28.63" x2="103.90" y2="28.63" stroke="#3C78C8" stroke-width="1.75" />
<line x1="101.72" y1="42.42" x2="101.72" y2="14.85" stroke="#3C78C8" stroke-width="1.75" />
<line x1="103.90" y1="126.87" x2="115.08" y2="126.87" stroke="#3C78C8" stroke-width="1.75" />
<line x1="112.90" y1="137.14" x2="112.90" y2="116.60" stroke="#3C78C8" stroke-width="1.75" />
<line x1="115.08" y1="158.45" x2="126.26" y2="158.45" stroke="#3C78C8" stroke-width="1.75" />
<line x1="124.08" y1="167.22" x2="124.08" y2="149.67" stroke="#3C78C8" stroke-width="1.75" />
<line x1="126.26" y1="152.43" x2="137.44" y2="152.43" stroke="#3C78C8" stroke-width="1.75" />
<line x1="135.26" y1="161.20" x2="135.26" y2="143.66" stroke="#3C78C8" stroke-width="1.75" />
<line x1="137.44" y1="151.93" x2="148.62" y2="151.93" stroke="#3C78C8" stroke-width="1.75" />
<line x1="146.44" y1="160.95" x2="146.44" y2="142.91" stroke="#3C78C8" stroke-width="1.75" />
<line x1="148.62" y1="153.68" x2="159.80" y2="153.68" stroke="#3C78C8" stroke-width="1.75" />
<line x1="157.62" y1="162.46" x2="157.62" y2="144.91" stroke="#3C78C8" stroke-width="1.75" />
<line x1="159.80" y1="162.46" x2="170.98" y2="162.46" stroke="#3C78C8" stroke-width="1.75" />
<line x1="168.80" y1="171.23" x2="168.80" y2="153.68" stroke="#3C78C8" stroke-width="1.75" />
<line x1="170.98" y1="201.30" x2="182.16" y2="201.30" stroke="#3C78C8" stroke-width="1.75" />
<line x1="179.98" y1="207.56" x2="179.98" y2="195.03" stroke="#3C78C8" stroke-width="1.75" />
<line x1="182.16" y1="211.47" x2="193.34" y2="211.47" stroke="#3C78C8" stroke-width="1.75" />
<line x1="191.16" y1="216.58" x2="191.16" y2="206.36" stroke="#3C78C8" stroke-width="1.75" />
<line x1="193.34" y1="222.70" x2="204.52" y2="222.70" stroke="#3C78C8" stroke-width="1.75" />
<line x1="202.34" y1="226.86" x2="202.34" y2="218.54" stroke="#3C78C8" stroke-width="1.75" />
<line x1="204.52" y1="228.86" x2="215.70" y2="228.86" stroke="#3C78C8" stroke-width="1.75" />
<line x1="213.52" y1="232.37" x2="213.52" y2="225.36" stroke="#3C78C8" stroke-width="1.75" />
<line x1="215.70" y1="227.61" x2="226.88" y2="227.61" stroke="#3C78C8" stroke-width="1.75" />
<line x1="224.70" y1="231.22" x2="224.70" y2="224.00" stroke="#3C78C8" stroke-width="1.75" />
<line x1="226.88" y1="223.85" x2="238.06" y2="223.85" stroke="#3C78C8" stroke-width="1.75" />
<line x1="235.88" y1="227.46" x2="235.88" y2="220.24" stroke="#3C78C8" stroke-width="1.75" />
<line x1="238.06" y1="229.87" x2="249.24" y2="229.87" stroke="#3C78C8" stroke-width="1.75" />
<line x1="247.06" y1="233.22" x2="247.06" y2="226.51" stroke="#3C78C8" stroke-width="1.75" />
<line x1="249.24" y1="232.87" x2="260.42" y2="232.87" stroke="#3C78C8" stroke-width="1.75" />
<line x1="258.24" y1="235.88" x2="258.24" y2="229.87" stroke="#3C78C8" stroke-width="1.75" />
<line x1="260.42" y1="237.23" x2="271.60" y2="237.23" stroke="#3C78C8" stroke-width="1.75" />
<line x1="269.42" y1="239.59" x2="269.42" y2="234.88" stroke="#3C78C8" stroke-width="1.75" />
<line x1="271.60" y1="240.47" x2="282.78" y2="240.47" stroke="#3C78C8" stroke-width="1.75" />
<line x1="280.60" y1="242.97" x2="280.60" y2="237.96" stroke="#3C78C8" stroke-width="1.75" />
<line x1="282.78" y1="242.00" x2="293.96" y2="242.00" stroke="#3C78C8" stroke-width="1.75" />
<line x1="291.78" y1="243.60" x2="291.78" y2="240.39" stroke="#3C78C8" stroke-width="1.75" />
<line x1="293.96" y1="242.76" x2="305.14" y2="242.76" stroke="#3C78C8" stroke-width="1.75" />
<line x1="302.96" y1="243.81" x2="302.96" y2="241.71" stroke="#3C78C8" stroke-width="1.75" />
<line x1="305.14" y1="243.55" x2="316.32" y2="243.55" stroke="#3C78C8" stroke-width="1.75" />
<line x1="314.14" y1="244.50" x2="314.14" y2="242.60" stroke="#3C78C8" stroke-width="1.75" />
<line x1="316.32" y1="243.65" x2="327.50" y2="243.65" stroke="#3C78C8" stroke-width="1.75" />
<line x1="325.32" y1="244.55" x2="325.32" y2="242.75" stroke="#3C78C8" stroke-width="1.75" />
<line x1="327.50" y1="243.67" x2="338.68" y2="243.67" stroke="#3C78C8" stroke-width="1.75" />
<line x1="336.50" y1="244.58" x2="336.50" y2="242.77" stroke="#3C78C8" stroke-width="1.75" />
<line x1="338.68" y1="243.70" x2="349.86" y2="243.70" stroke="#3C78C8" stroke-width="1.75" />
<line x1="347.68" y1="244.60" x2="347.68" y2="242.80" stroke="#3C78C8" stroke-width="1.75" />
<line x1="349.86" y1="243.70" x2="361.04" y2="243.70" stroke="#3C78C8" stroke-width="1.75" />
<line x1="358.86" y1="244.60" x2="358.86" y2="242.80" stroke="#3C78C8" stroke-width="1.75" />
<line x1="361.04" y1="243.67" x2="372.22" y2="243.67" stroke="#3C78C8" stroke-width="1.75" />
<line x1="370.04" y1="244.63" x2="370.04" y2="242.72" stroke="#3C78C8" stroke-width="1.75" />
<line x1="182.16" y1="81.76" x2="193.34" y2="81.76" stroke="#3C78C8" stroke-width="1.75" />
<line x1="191.16" y1="107.32" x2="191.16" y2="56.20" stroke="#3C78C8" stroke-width="1.75" />
<line x1="193.34" y1="137.90" x2="204.52" y2="137.90" stroke="#3C78C8" stroke-width="1.75" />
<line x1="202.34" y1="158.70" x2="202.34" y2="117.10" stroke="#3C78C8" stroke-width="1.75" />
<line x1="204.52" y1="168.72" x2="215.70" y2="168.72" stroke="#3C78C8" stroke-width="1.75" />
<line x1="213.52" y1="186.26" x2="213.52" y2="151.18" stroke="#3C78C8" stroke-width="1.75" />
<line x1="215.70" y1="162.46" x2="226.88" y2="162.46" stroke="#3C78C8" stroke-width="1.75" />
<line x1="224.70" y1="180.50" x2="224.70" y2="144.41" stroke="#3C78C8" stroke-width="1.75" />
<line x1="226.88" y1="143.66" x2="238.06" y2="143.66" stroke="#3C78C8" stroke-width="1.75" />
<line x1="235.88" y1="161.70" x2="235.88" y2="125.62" stroke="#3C78C8" stroke-width="1.75" />
<line x1="238.06" y1="173.73" x2="249.24" y2="173.73" stroke="#3C78C8" stroke-width="1.75" />
<line x1="247.06" y1="190.52" x2="247.06" y2="156.94" stroke="#3C78C8" stroke-width="1.75" />
<line x1="249.24" y1="188.77" x2="260.42" y2="188.77" stroke="#3C78C8" stroke-width="1.75" />
<line x1="258.24" y1="203.80" x2="258.24" y2="173.73" stroke="#3C78C8" stroke-width="1.75" />
<line x1="260.42" y1="210.57" x2="271.60" y2="210.57" stroke="#3C78C8" stroke-width="1.75" />
<line x1="269.42" y1="222.35" x2="269.42" y2="198.79" stroke="#3C78C8" stroke-width="1.75" />
<line x1="271.60" y1="226.73" x2="282.78" y2="226.73" stroke="#3C78C8" stroke-width="1.75" />
<line x1="280.60" y1="239.26" x2="280.60" y2="214.20" stroke="#3C78C8" stroke-width="1.75" />
<line x1="282.78" y1="234.38" x2="293.96" y2="234.38" stroke="#3C78C8" stroke-width="1.75" />
<line x1="291.78" y1="242.40" x2="291.78" y2="226.36" stroke="#3C78C8" stroke-width="1.75" />
<line x1="293.96" y1="238.21" x2="305.14" y2="238.21" stroke="#3C78C8" stroke-width="1.75" />
<line x1="302.96" y1="243.47" x2="302.96" y2="232.95" stroke="#3C78C8" stroke-width="1.75" />
<line x1="305.14" y1="242.15" x2="316.32" y2="242.15" stroke="#3C78C8" stroke-width="1.75" />
<line x1="314.14" y1="246.91" x2="314.14" y2="237.38" stroke="#3C78C8" stroke-width="1.75" />
<line x1="316.32" y1="242.65" x2="327.50" y2="242.65" stroke="#3C78C8" stroke-width="1.75" />
<line x1="325.32" y1="247.16" x2="325.32" y2="238.14" stroke="#3C78C8" stroke-width="1.75" />
<line x1="327.50" y1="242.77" x2="338.68" y2="242.77" stroke="#3C78C8" stroke-width="1.75" />
<line x1="336.50" y1="247.28" x2="336.50" y2="238.26" stroke="#3C78C8" stroke-width="1.75" />
<line x1="338.68" y1="242.90" x2="349.86" y2="242.90" stroke="#3C78C8" stroke-width="1.75" />
<line x1="347.68" y1="247.41" x2="347.68" y2="238.39" stroke="#3C78C8" stroke-width="1.75" />
<line x1="349.86" y1="242.90" x2="361.04" y2="242.90" stroke="#3C78C8" stroke-width="1.75" />
<line x1="358.86" y1="247.41" x2="358.86" y2="238.39" stroke="#3C78C8" stroke-width="1.75" />
<line x1="361.04" y1="242.77" x2="372.22" y2="242.77" stroke="#3C78C8" stroke-width="1.75" />
<line x1="370.04" y1="247.53" x2="370.04" y2="238.01" stroke="#3C78C8" stroke-width="1.75" />
</g>
<rect x="31.80" y="1.90" width="357.00" height="248.20" fill="none" stroke="#262626" stroke-width="1"/>
<line x1="53.40" y1="250.10" x2="53.40" y2="253.40" stroke="#262626" stroke-width="1" />
<text x="53.40" y="265.50" font-size="12.8" text-anchor="middle" >420</text>
<line x1="98.13" y1="250.10" x2="98.13" y2="253.40" stroke="#262626" stroke-width="1" />
<text x="98.13" y="265.50" font-size="12.8" text-anchor="middle" >440</text>
<line x1="142.86" y1="250.10" x2="142.86" y2="253.40" stroke="#262626" stroke-width="1" />
<text x="142.86" y="265.50" font-size="12.8" text-anchor="middle" >460</text>
<line x1="187.58" y1="250.10" x2="187.58" y2="253.40" stroke="#262626" stroke-width="1" />
<text x="187.58" y="265.50" font-size="12.8" text-anchor="middle" >480</text>
<line x1="232.31" y1="250.10" x2="232.31" y2="253.40" stroke="#262626" stroke-width="1" />
<text x="232.31" y="265.50" font-size="12.8" text-anchor="middle" >500</text>
<line x1="277.04" y1="250.10" x2="277.04" y2="253.40" stroke="#262626" stroke-width="1" />
<text x="277.04" y="265.50" font-size="12.8" text-anchor="middle" >520</text>
<line x1="321.77" y1="250.10" x2="321.77" y2="253.40" stroke="#262626" stroke-width="1" />
<text x="321.77" y="265.50" font-size="12.8" text-anchor="middle" >540</text>
<line x1="366.50" y1="250.10" x2="366.50" y2="253.40" stroke="#262626" stroke-width="1" />
<text x="366.50" y="265.50" font-size="12.8" text-anchor="middle" >560</text>
<line x1="28.50" y1="243.90" x2="31.80" y2="243.90" stroke="#262626" stroke-width="1" />
<text x="25.80" y="248.40" font-size="12.8" text-anchor="end" >0</text>
<line x1="28.50" y1="193.78" x2="31.80" y2="193.78" stroke="#262626" stroke-width="1" />
<text x="25.80" y="198.28" font-size="12.8" text-anchor="end" >2</text>
<line x1="28.50" y1="143.66" x2="31.80" y2="143.66" stroke="#262626" stroke-width="1" />
<text x="25.80" y="148.16" font-size="12.8" text-anchor="end" >4</text>
<line x1="28.50" y1="93.54" x2="31.80" y2="93.54" stroke="#262626" stroke-width="1" />
<text x="25.80" y="98.04" font-size="12.8" text-anchor="end" >6</text>
<line x1="28.50" y1="43.42" x2="31.80" y2="43.42" stroke="#262626" stroke-width="1" />
<text x="25.80" y="47.92" font-size="12.8" text-anchor="end" >8</text>
<text x="210.30" y="281.50" font-size="12.8" text-anchor="middle" >Wavelength (nm)</text>
<text x="11.00" y="126.00" font-size="12.8" text-anchor="middle" transform="rotate(-90 11.0 126.0)">Yield (ARB)</text>
<text x="188.00" y="43.00" font-size="12.8" text-anchor="start" >x5</text>
<rect x="272.20" y="8.20" width="110.00" height="113.30" rx="2.5" ry="2.5" fill="#fff" stroke="#d6d6d6" stroke-width="1"/>
<text x="327.20" y="22.30" font-size="12.8" text-anchor="middle" >Time (s)</text>
<line x1="277.60" y1="37.00" x2="303.00" y2="37.00" stroke="#F25C18" stroke-width="1.75" />
<text x="313.20" y="41.40" font-size="12.8" text-anchor="start" >0.0 - 0.1 s</text>
<line x1="277.60" y1="55.68" x2="303.00" y2="55.68" stroke="#C6B99E" stroke-width="1.75" />
<text x="313.20" y="60.08" font-size="12.8" text-anchor="start" >0.1 - 0.2 s</text>
<line x1="277.60" y1="74.36" x2="303.00" y2="74.36" stroke="#AAEAEC" stroke-width="1.75" />
<text x="313.20" y="78.76" font-size="12.8" text-anchor="start" >0.2 - 0.3 s</text>
<line x1="277.60" y1="93.04" x2="303.00" y2="93.04" stroke="#A3CDEC" stroke-width="1.75" />
<text x="313.20" y="97.44" font-size="12.8" text-anchor="start" >0.3 - 0.4 s</text>
<line x1="277.60" y1="111.72" x2="303.00" y2="111.72" stroke="#3C78C8" stroke-width="1.75" />
<text x="313.20" y="116.12" font-size="12.8" text-anchor="start" >0.4 - 0.5 s</text>
<clipPath id="c2"><rect x="59.8" y="316.3" width="319.5" height="247.45"/></clipPath>
<g clip-path="url(#c2)">
<polyline fill="none" stroke="#A3C95A" stroke-width="1.75" stroke-linejoin="miter" points="62.50,508.03 68.16,508.03 68.16,481.78 79.47,481.78 79.47,434.77 90.78,434.77 90.78,380.76 102.09,380.76 102.09,379.48 113.41,379.48 113.41,448.53 124.72,448.53 124.72,476.31 136.03,476.31 136.03,467.00 147.34,467.00 147.34,468.79 158.66,468.79 158.66,470.44 169.97,470.44 169.97,480.00 181.28,480.00 181.28,513.76 192.59,513.76 192.59,524.46 203.91,524.46 203.91,533.89 215.22,533.89 215.22,537.97 226.53,537.97 226.53,536.57 237.84,536.57 237.84,531.98 249.16,531.98 249.16,536.95 260.47,536.95 260.47,540.77 271.78,540.77 271.78,544.97 283.09,544.97 283.09,548.29 294.41,548.29 294.41,550.01 305.72,550.01 305.72,551.34 317.03,551.34 317.03,551.98 328.34,551.98 328.34,552.11 339.66,552.11 339.66,552.11 350.97,552.11 350.97,552.11 362.28,552.11 362.28,552.11 373.59,552.11 373.59,552.11 379.25,552.11"/>
<line x1="56.84" y1="510.45" x2="68.16" y2="510.45" stroke="#18226E" stroke-width="1.75" />
<line x1="62.50" y1="514.91" x2="62.50" y2="505.99" stroke="#18226E" stroke-width="1.75" />
<line x1="68.16" y1="486.24" x2="79.47" y2="486.24" stroke="#18226E" stroke-width="1.75" />
<line x1="73.81" y1="493.76" x2="73.81" y2="478.73" stroke="#18226E" stroke-width="1.75" />
<line x1="79.47" y1="432.86" x2="90.78" y2="432.86" stroke="#18226E" stroke-width="1.75" />
<line x1="85.12" y1="446.88" x2="85.12" y2="418.85" stroke="#18226E" stroke-width="1.75" />
<line x1="90.78" y1="369.54" x2="102.09" y2="369.54" stroke="#18226E" stroke-width="1.75" />
<line x1="96.44" y1="389.93" x2="96.44" y2="349.16" stroke="#18226E" stroke-width="1.75" />
<line x1="102.09" y1="350.43" x2="113.41" y2="350.43" stroke="#18226E" stroke-width="1.75" />
<line x1="107.75" y1="373.37" x2="107.75" y2="327.50" stroke="#18226E" stroke-width="1.75" />
<line x1="113.41" y1="447.26" x2="124.72" y2="447.26" stroke="#18226E" stroke-width="1.75" />
<line x1="119.06" y1="458.72" x2="119.06" y2="435.79" stroke="#18226E" stroke-width="1.75" />
<line x1="124.72" y1="475.80" x2="136.03" y2="475.80" stroke="#18226E" stroke-width="1.75" />
<line x1="130.38" y1="483.95" x2="130.38" y2="467.64" stroke="#18226E" stroke-width="1.75" />
<line x1="136.03" y1="471.21" x2="147.34" y2="471.21" stroke="#18226E" stroke-width="1.75" />
<line x1="141.69" y1="480.00" x2="141.69" y2="462.42" stroke="#18226E" stroke-width="1.75" />
<line x1="147.34" y1="471.21" x2="158.66" y2="471.21" stroke="#18226E" stroke-width="1.75" />
<line x1="153.00" y1="480.00" x2="153.00" y2="462.42" stroke="#18226E" stroke-width="1.75" />
<line x1="158.66" y1="472.99" x2="169.97" y2="472.99" stroke="#18226E" stroke-width="1.75" />
<line x1="164.31" y1="481.53" x2="164.31" y2="464.46" stroke="#18226E" stroke-width="1.75" />
<line x1="169.97" y1="480.00" x2="181.28" y2="480.00" stroke="#18226E" stroke-width="1.75" />
<line x1="175.62" y1="487.64" x2="175.62" y2="472.36" stroke="#18226E" stroke-width="1.75" />
<line x1="181.28" y1="516.31" x2="192.59" y2="516.31" stroke="#18226E" stroke-width="1.75" />
<line x1="186.94" y1="520.90" x2="186.94" y2="511.72" stroke="#18226E" stroke-width="1.75" />
<line x1="192.59" y1="524.46" x2="203.91" y2="524.46" stroke="#18226E" stroke-width="1.75" />
<line x1="198.25" y1="528.03" x2="198.25" y2="520.90" stroke="#18226E" stroke-width="1.75" />
<line x1="203.91" y1="535.16" x2="215.22" y2="535.16" stroke="#18226E" stroke-width="1.75" />
<line x1="209.56" y1="537.46" x2="209.56" y2="532.87" stroke="#18226E" stroke-width="1.75" />
<line x1="215.22" y1="539.37" x2="226.53" y2="539.37" stroke="#18226E" stroke-width="1.75" />
<line x1="220.88" y1="541.15" x2="220.88" y2="537.58" stroke="#18226E" stroke-width="1.75" />
<line x1="226.53" y1="538.73" x2="237.84" y2="538.73" stroke="#18226E" stroke-width="1.75" />
<line x1="232.19" y1="540.51" x2="232.19" y2="536.95" stroke="#18226E" stroke-width="1.75" />
<line x1="237.84" y1="535.04" x2="249.16" y2="535.04" stroke="#18226E" stroke-width="1.75" />
<line x1="243.50" y1="537.08" x2="243.50" y2="533.00" stroke="#18226E" stroke-width="1.75" />
<line x1="249.16" y1="541.79" x2="260.47" y2="541.79" stroke="#18226E" stroke-width="1.75" />
<line x1="254.81" y1="543.32" x2="254.81" y2="540.26" stroke="#18226E" stroke-width="1.75" />
<line x1="260.47" y1="543.70" x2="271.78" y2="543.70" stroke="#18226E" stroke-width="1.75" />
<line x1="266.12" y1="544.97" x2="266.12" y2="542.43" stroke="#18226E" stroke-width="1.75" />
<line x1="271.78" y1="548.03" x2="283.09" y2="548.03" stroke="#18226E" stroke-width="1.75" />
<line x1="277.44" y1="549.05" x2="277.44" y2="547.01" stroke="#18226E" stroke-width="1.75" />
<line x1="283.09" y1="550.07" x2="294.41" y2="550.07" stroke="#18226E" stroke-width="1.75" />
<line x1="288.75" y1="550.83" x2="288.75" y2="549.31" stroke="#18226E" stroke-width="1.75" />
<line x1="294.41" y1="551.47" x2="305.72" y2="551.47" stroke="#18226E" stroke-width="1.75" />
<line x1="300.06" y1="552.11" x2="300.06" y2="550.83" stroke="#18226E" stroke-width="1.75" />
<line x1="305.72" y1="552.75" x2="317.03" y2="552.75" stroke="#18226E" stroke-width="1.75" />
<line x1="311.38" y1="553.25" x2="311.38" y2="552.24" stroke="#18226E" stroke-width="1.75" />
<line x1="317.03" y1="553.25" x2="328.34" y2="553.25" stroke="#18226E" stroke-width="1.75" />
<line x1="322.69" y1="553.64" x2="322.69" y2="552.87" stroke="#18226E" stroke-width="1.75" />
<line x1="328.34" y1="553.38" x2="339.66" y2="553.38" stroke="#18226E" stroke-width="1.75" />
<line x1="334.00" y1="553.76" x2="334.00" y2="553.00" stroke="#18226E" stroke-width="1.75" />
<line x1="339.66" y1="553.38" x2="350.97" y2="553.38" stroke="#18226E" stroke-width="1.75" />
<line x1="345.31" y1="553.76" x2="345.31" y2="553.00" stroke="#18226E" stroke-width="1.75" />
<line x1="350.97" y1="553.38" x2="362.28" y2="553.38" stroke="#18226E" stroke-width="1.75" />
<line x1="356.62" y1="553.76" x2="356.62" y2="553.00" stroke="#18226E" stroke-width="1.75" />
<line x1="362.28" y1="553.38" x2="373.59" y2="553.38" stroke="#18226E" stroke-width="1.75" />
<line x1="367.94" y1="553.76" x2="367.94" y2="553.00" stroke="#18226E" stroke-width="1.75" />
<line x1="373.59" y1="553.38" x2="384.91" y2="553.38" stroke="#18226E" stroke-width="1.75" />
<line x1="379.25" y1="553.76" x2="379.25" y2="553.00" stroke="#18226E" stroke-width="1.75" />
<line x1="56.84" y1="500.00" x2="68.16" y2="500.00" stroke="#F25C18" stroke-width="1.75" />
<line x1="62.50" y1="507.52" x2="62.50" y2="492.49" stroke="#F25C18" stroke-width="1.75" />
<line x1="68.16" y1="467.51" x2="79.47" y2="467.51" stroke="#F25C18" stroke-width="1.75" />
<line x1="73.81" y1="477.96" x2="73.81" y2="457.07" stroke="#F25C18" stroke-width="1.75" />
<line x1="79.47" y1="442.67" x2="90.78" y2="442.67" stroke="#F25C18" stroke-width="1.75" />
<line x1="85.12" y1="457.96" x2="85.12" y2="427.38" stroke="#F25C18" stroke-width="1.75" />
<line x1="90.78" y1="419.48" x2="102.09" y2="419.48" stroke="#F25C18" stroke-width="1.75" />
<line x1="96.44" y1="442.03" x2="96.44" y2="396.94" stroke="#F25C18" stroke-width="1.75" />
<line x1="102.09" y1="476.94" x2="113.41" y2="476.94" stroke="#F25C18" stroke-width="1.75" />
<line x1="107.75" y1="503.19" x2="107.75" y2="450.70" stroke="#F25C18" stroke-width="1.75" />
<line x1="113.41" y1="459.49" x2="124.72" y2="459.49" stroke="#F25C18" stroke-width="1.75" />
<line x1="119.06" y1="472.48" x2="119.06" y2="446.49" stroke="#F25C18" stroke-width="1.75" />
<line x1="124.72" y1="477.45" x2="136.03" y2="477.45" stroke="#F25C18" stroke-width="1.75" />
<line x1="130.38" y1="488.28" x2="130.38" y2="466.62" stroke="#F25C18" stroke-width="1.75" />
<line x1="136.03" y1="450.70" x2="147.34" y2="450.70" stroke="#F25C18" stroke-width="1.75" />
<line x1="141.69" y1="462.55" x2="141.69" y2="438.85" stroke="#F25C18" stroke-width="1.75" />
<line x1="147.34" y1="461.91" x2="158.66" y2="461.91" stroke="#F25C18" stroke-width="1.75" />
<line x1="153.00" y1="472.99" x2="153.00" y2="450.83" stroke="#F25C18" stroke-width="1.75" />
<line x1="158.66" y1="463.06" x2="169.97" y2="463.06" stroke="#F25C18" stroke-width="1.75" />
<line x1="164.31" y1="474.01" x2="164.31" y2="452.10" stroke="#F25C18" stroke-width="1.75" />
<line x1="169.97" y1="479.49" x2="181.28" y2="479.49" stroke="#F25C18" stroke-width="1.75" />
<line x1="175.62" y1="488.92" x2="175.62" y2="470.06" stroke="#F25C18" stroke-width="1.75" />
<line x1="181.28" y1="508.03" x2="192.59" y2="508.03" stroke="#F25C18" stroke-width="1.75" />
<line x1="186.94" y1="513.38" x2="186.94" y2="502.68" stroke="#F25C18" stroke-width="1.75" />
<line x1="192.59" y1="524.46" x2="203.91" y2="524.46" stroke="#F25C18" stroke-width="1.75" />
<line x1="198.25" y1="528.03" x2="198.25" y2="520.90" stroke="#F25C18" stroke-width="1.75" />
<line x1="203.91" y1="529.43" x2="215.22" y2="529.43" stroke="#F25C18" stroke-width="1.75" />
<line x1="209.56" y1="532.87" x2="209.56" y2="525.99" stroke="#F25C18" stroke-width="1.75" />
<line x1="215.22" y1="535.04" x2="226.53" y2="535.04" stroke="#F25C18" stroke-width="1.75" />
<line x1="220.88" y1="537.84" x2="220.88" y2="532.23" stroke="#F25C18" stroke-width="1.75" />
<line x1="226.53" y1="529.56" x2="237.84" y2="529.56" stroke="#F25C18" stroke-width="1.75" />
<line x1="232.19" y1="532.62" x2="232.19" y2="526.50" stroke="#F25C18" stroke-width="1.75" />
<line x1="237.84" y1="521.28" x2="249.16" y2="521.28" stroke="#F25C18" stroke-width="1.75" />
<line x1="243.50" y1="524.59" x2="243.50" y2="517.97" stroke="#F25C18" stroke-width="1.75" />
<line x1="249.16" y1="523.32" x2="260.47" y2="523.32" stroke="#F25C18" stroke-width="1.75" />
<line x1="254.81" y1="526.50" x2="254.81" y2="520.13" stroke="#F25C18" stroke-width="1.75" />
<line x1="260.47" y1="524.97" x2="271.78" y2="524.97" stroke="#F25C18" stroke-width="1.75" />
<line x1="266.12" y1="528.03" x2="266.12" y2="521.91" stroke="#F25C18" stroke-width="1.75" />
<line x1="271.78" y1="531.98" x2="283.09" y2="531.98" stroke="#F25C18" stroke-width="1.75" />
<line x1="277.44" y1="534.78" x2="277.44" y2="529.18" stroke="#F25C18" stroke-width="1.75" />
<line x1="283.09" y1="540.01" x2="294.41" y2="540.01" stroke="#F25C18" stroke-width="1.75" />
<line x1="288.75" y1="542.30" x2="288.75" y2="537.71" stroke="#F25C18" stroke-width="1.75" />
<line x1="294.41" y1="546.25" x2="305.72" y2="546.25" stroke="#F25C18" stroke-width="1.75" />
<line x1="300.06" y1="547.78" x2="300.06" y2="544.72" stroke="#F25C18" stroke-width="1.75" />
<line x1="305.72" y1="547.52" x2="317.03" y2="547.52" stroke="#F25C18" stroke-width="1.75" />
<line x1="311.38" y1="548.80" x2="311.38" y2="546.25" stroke="#F25C18" stroke-width="1.75" />
<line x1="317.03" y1="549.94" x2="328.34" y2="549.94" stroke="#F25C18" stroke-width="1.75" />
<line x1="322.69" y1="550.71" x2="322.69" y2="549.18" stroke="#F25C18" stroke-width="1.75" />
<line x1="328.34" y1="549.69" x2="339.66" y2="549.69" stroke="#F25C18" stroke-width="1.75" />
<line x1="334.00" y1="550.32" x2="334.00" y2="549.05" stroke="#F25C18" stroke-width="1.75" />
<line x1="339.66" y1="550.45" x2="350.97" y2="550.45" stroke="#F25C18" stroke-width="1.75" />
<line x1="345.31" y1="551.09" x2="345.31" y2="549.82" stroke="#F25C18" stroke-width="1.75" />
<line x1="350.97" y1="550.45" x2="362.28" y2="550.45" stroke="#F25C18" stroke-width="1.75" />
<line x1="356.62" y1="551.09" x2="356.62" y2="549.82" stroke="#F25C18" stroke-width="1.75" />
<line x1="362.28" y1="549.94" x2="373.59" y2="549.94" stroke="#F25C18" stroke-width="1.75" />
<line x1="367.94" y1="550.58" x2="367.94" y2="549.31" stroke="#F25C18" stroke-width="1.75" />
<line x1="373.59" y1="549.56" x2="384.91" y2="549.56" stroke="#F25C18" stroke-width="1.75" />
<line x1="379.25" y1="550.20" x2="379.25" y2="548.92" stroke="#F25C18" stroke-width="1.75" />
</g>
<rect x="59.80" y="316.30" width="319.50" height="247.45" fill="none" stroke="#262626" stroke-width="1"/>
<line x1="62.50" y1="563.75" x2="62.50" y2="567.05" stroke="#262626" stroke-width="1" />
<text x="62.50" y="580.30" font-size="12.8" text-anchor="middle" >420</text>
<line x1="107.75" y1="563.75" x2="107.75" y2="567.05" stroke="#262626" stroke-width="1" />
<text x="107.75" y="580.30" font-size="12.8" text-anchor="middle" >440</text>
<line x1="153.00" y1="563.75" x2="153.00" y2="567.05" stroke="#262626" stroke-width="1" />
<text x="153.00" y="580.30" font-size="12.8" text-anchor="middle" >460</text>
<line x1="198.25" y1="563.75" x2="198.25" y2="567.05" stroke="#262626" stroke-width="1" />
<text x="198.25" y="580.30" font-size="12.8" text-anchor="middle" >480</text>
<line x1="243.50" y1="563.75" x2="243.50" y2="567.05" stroke="#262626" stroke-width="1" />
<text x="243.50" y="580.30" font-size="12.8" text-anchor="middle" >500</text>
<line x1="288.75" y1="563.75" x2="288.75" y2="567.05" stroke="#262626" stroke-width="1" />
<text x="288.75" y="580.30" font-size="12.8" text-anchor="middle" >520</text>
<line x1="334.00" y1="563.75" x2="334.00" y2="567.05" stroke="#262626" stroke-width="1" />
<text x="334.00" y="580.30" font-size="12.8" text-anchor="middle" >540</text>
<line x1="379.25" y1="563.75" x2="379.25" y2="567.05" stroke="#262626" stroke-width="1" />
<text x="379.25" y="580.30" font-size="12.8" text-anchor="middle" >560</text>
<line x1="56.50" y1="553.00" x2="59.80" y2="553.00" stroke="#262626" stroke-width="1" />
<text x="54.20" y="557.50" font-size="12.8" text-anchor="end" >0.000</text>
<line x1="56.50" y1="521.15" x2="59.80" y2="521.15" stroke="#262626" stroke-width="1" />
<text x="54.20" y="525.65" font-size="12.8" text-anchor="end" >0.025</text>
<line x1="56.50" y1="489.30" x2="59.80" y2="489.30" stroke="#262626" stroke-width="1" />
<text x="54.20" y="493.80" font-size="12.8" text-anchor="end" >0.050</text>
<line x1="56.50" y1="457.45" x2="59.80" y2="457.45" stroke="#262626" stroke-width="1" />
<text x="54.20" y="461.95" font-size="12.8" text-anchor="end" >0.075</text>
<line x1="56.50" y1="425.60" x2="59.80" y2="425.60" stroke="#262626" stroke-width="1" />
<text x="54.20" y="430.10" font-size="12.8" text-anchor="end" >0.100</text>
<line x1="56.50" y1="393.75" x2="59.80" y2="393.75" stroke="#262626" stroke-width="1" />
<text x="54.20" y="398.25" font-size="12.8" text-anchor="end" >0.125</text>
<line x1="56.50" y1="361.90" x2="59.80" y2="361.90" stroke="#262626" stroke-width="1" />
<text x="54.20" y="366.40" font-size="12.8" text-anchor="end" >0.150</text>
<line x1="56.50" y1="330.05" x2="59.80" y2="330.05" stroke="#262626" stroke-width="1" />
<text x="54.20" y="334.55" font-size="12.8" text-anchor="end" >0.175</text>
<text x="219.55" y="596.50" font-size="12.8" text-anchor="middle" >Wavelength (nm)</text>
<text x="11.00" y="440.02" font-size="12.8" text-anchor="middle" transform="rotate(-90 11.0 440.025)">NMF Height (ARB)</text>
<rect x="302.50" y="322.00" width="70.20" height="61.40" rx="2.5" ry="2.5" fill="#fff" stroke="#d6d6d6" stroke-width="1"/>
<line x1="307.20" y1="332.90" x2="333.40" y2="332.90" stroke="#A3C95A" stroke-width="1.75" />
<text x="343.40" y="337.30" font-size="12.8" text-anchor="start" >Tot.</text>
<line x1="307.20" y1="351.90" x2="333.40" y2="351.90" stroke="#18226E" stroke-width="1.75" />
<text x="343.40" y="355.60" font-size="12.8" text-anchor="start" ><tspan font-style="italic">H</tspan><tspan font-size="8.96" dy="2.2">0</tspan></text>
<line x1="307.20" y1="370.90" x2="333.40" y2="370.90" stroke="#F25C18" stroke-width="1.75" />
<text x="343.40" y="374.60" font-size="12.8" text-anchor="start" ><tspan font-style="italic">H</tspan><tspan font-size="8.96" dy="2.2">1</tspan></text>
<clipPath id="c3"><rect x="52.0" y="630.75" width="329.6" height="247.25"/></clipPath>
<g clip-path="url(#c3)">
<line x1="52.60" y1="868.99" x2="52.60" y2="851.09" stroke="#18226E" stroke-width="1.75" />
<line x1="55.90" y1="867.50" x2="55.90" y2="851.25" stroke="#18226E" stroke-width="1.75" />
<line x1="59.19" y1="863.75" x2="59.19" y2="850.00" stroke="#18226E" stroke-width="1.75" />
<line x1="62.48" y1="856.25" x2="62.48" y2="843.75" stroke="#18226E" stroke-width="1.75" />
<line x1="65.78" y1="846.25" x2="65.78" y2="834.50" stroke="#18226E" stroke-width="1.75" />
<line x1="69.08" y1="836.25" x2="69.08" y2="825.75" stroke="#18226E" stroke-width="1.75" />
<line x1="72.37" y1="842.50" x2="72.37" y2="831.25" stroke="#18226E" stroke-width="1.75" />
<line x1="75.67" y1="833.00" x2="75.67" y2="820.50" stroke="#18226E" stroke-width="1.75" />
<line x1="78.96" y1="833.75" x2="78.96" y2="822.50" stroke="#18226E" stroke-width="1.75" />
<line x1="82.25" y1="835.50" x2="82.25" y2="823.75" stroke="#18226E" stroke-width="1.75" />
<line x1="85.55" y1="827.50" x2="85.55" y2="814.25" stroke="#18226E" stroke-width="1.75" />
<line x1="88.84" y1="833.00" x2="88.84" y2="818.75" stroke="#18226E" stroke-width="1.75" />
<line x1="92.14" y1="831.25" x2="92.14" y2="817.50" stroke="#18226E" stroke-width="1.75" />
<line x1="95.44" y1="827.50" x2="95.44" y2="813.25" stroke="#18226E" stroke-width="1.75" />
<line x1="98.73" y1="830.00" x2="98.73" y2="816.25" stroke="#18226E" stroke-width="1.75" />
<line x1="102.03" y1="828.00" x2="102.03" y2="813.75" stroke="#18226E" stroke-width="1.75" />
<line x1="105.32" y1="825.00" x2="105.32" y2="810.00" stroke="#18226E" stroke-width="1.75" />
<line x1="108.62" y1="825.50" x2="108.62" y2="811.25" stroke="#18226E" stroke-width="1.75" />
<line x1="111.91" y1="827.50" x2="111.91" y2="813.25" stroke="#18226E" stroke-width="1.75" />
<line x1="115.21" y1="825.00" x2="115.21" y2="810.75" stroke="#18226E" stroke-width="1.75" />
<line x1="118.50" y1="813.73" x2="118.50" y2="799.14" stroke="#18226E" stroke-width="1.75" />
<line x1="121.79" y1="814.73" x2="121.79" y2="800.46" stroke="#18226E" stroke-width="1.75" />
<line x1="125.09" y1="816.38" x2="125.09" y2="801.46" stroke="#18226E" stroke-width="1.75" />
<line x1="128.38" y1="814.73" x2="128.38" y2="801.46" stroke="#18226E" stroke-width="1.75" />
<line x1="131.68" y1="814.73" x2="131.68" y2="800.46" stroke="#18226E" stroke-width="1.75" />
<line x1="134.97" y1="818.04" x2="134.97" y2="803.12" stroke="#18226E" stroke-width="1.75" />
<line x1="138.27" y1="813.07" x2="138.27" y2="799.14" stroke="#18226E" stroke-width="1.75" />
<line x1="141.56" y1="814.73" x2="141.56" y2="801.46" stroke="#18226E" stroke-width="1.75" />
<line x1="144.86" y1="814.73" x2="144.86" y2="799.80" stroke="#18226E" stroke-width="1.75" />
<line x1="148.16" y1="810.41" x2="148.16" y2="795.82" stroke="#18226E" stroke-width="1.75" />
<line x1="151.45" y1="811.41" x2="151.45" y2="797.15" stroke="#18226E" stroke-width="1.75" />
<line x1="154.75" y1="810.41" x2="154.75" y2="795.82" stroke="#18226E" stroke-width="1.75" />
<line x1="158.04" y1="811.41" x2="158.04" y2="796.48" stroke="#18226E" stroke-width="1.75" />
<line x1="161.34" y1="809.09" x2="161.34" y2="794.16" stroke="#18226E" stroke-width="1.75" />
<line x1="164.63" y1="813.07" x2="164.63" y2="798.14" stroke="#18226E" stroke-width="1.75" />
<line x1="167.93" y1="805.44" x2="167.93" y2="789.85" stroke="#18226E" stroke-width="1.75" />
<line x1="171.22" y1="810.41" x2="171.22" y2="794.83" stroke="#18226E" stroke-width="1.75" />
<line x1="174.51" y1="807.43" x2="174.51" y2="792.17" stroke="#18226E" stroke-width="1.75" />
<line x1="177.81" y1="804.78" x2="177.81" y2="789.19" stroke="#18226E" stroke-width="1.75" />
<line x1="181.10" y1="805.44" x2="181.10" y2="789.85" stroke="#18226E" stroke-width="1.75" />
<line x1="184.40" y1="803.78" x2="184.40" y2="788.19" stroke="#18226E" stroke-width="1.75" />
<line x1="187.69" y1="807.10" x2="187.69" y2="791.51" stroke="#18226E" stroke-width="1.75" />
<line x1="190.99" y1="802.45" x2="190.99" y2="786.53" stroke="#18226E" stroke-width="1.75" />
<line x1="194.28" y1="806.43" x2="194.28" y2="790.85" stroke="#18226E" stroke-width="1.75" />
<line x1="197.58" y1="803.78" x2="197.58" y2="788.19" stroke="#18226E" stroke-width="1.75" />
<line x1="200.88" y1="798.14" x2="200.88" y2="781.56" stroke="#18226E" stroke-width="1.75" />
<line x1="204.17" y1="802.45" x2="204.17" y2="786.53" stroke="#18226E" stroke-width="1.75" />
<line x1="207.47" y1="798.81" x2="207.47" y2="782.22" stroke="#18226E" stroke-width="1.75" />
<line x1="210.76" y1="804.11" x2="210.76" y2="788.19" stroke="#18226E" stroke-width="1.75" />
<line x1="214.05" y1="795.82" x2="214.05" y2="779.24" stroke="#18226E" stroke-width="1.75" />
<line x1="217.35" y1="796.48" x2="217.35" y2="779.90" stroke="#18226E" stroke-width="1.75" />
<line x1="220.65" y1="800.46" x2="220.65" y2="783.88" stroke="#18226E" stroke-width="1.75" />
<line x1="223.94" y1="801.46" x2="223.94" y2="784.88" stroke="#18226E" stroke-width="1.75" />
<line x1="227.24" y1="795.49" x2="227.24" y2="778.91" stroke="#18226E" stroke-width="1.75" />
<line x1="230.53" y1="798.14" x2="230.53" y2="781.56" stroke="#18226E" stroke-width="1.75" />
<line x1="233.83" y1="795.82" x2="233.83" y2="779.24" stroke="#18226E" stroke-width="1.75" />
<line x1="237.12" y1="794.01" x2="237.12" y2="773.73" stroke="#18226E" stroke-width="1.75" />
<line x1="240.42" y1="797.84" x2="240.42" y2="780.62" stroke="#18226E" stroke-width="1.75" />
<line x1="243.71" y1="798.99" x2="243.71" y2="782.53" stroke="#18226E" stroke-width="1.75" />
<line x1="247.00" y1="799.75" x2="247.00" y2="780.62" stroke="#18226E" stroke-width="1.75" />
<line x1="250.30" y1="792.86" x2="250.30" y2="773.73" stroke="#18226E" stroke-width="1.75" />
<line x1="253.59" y1="801.66" x2="253.59" y2="782.53" stroke="#18226E" stroke-width="1.75" />
<line x1="256.89" y1="795.16" x2="256.89" y2="776.79" stroke="#18226E" stroke-width="1.75" />
<line x1="260.19" y1="790.18" x2="260.19" y2="771.05" stroke="#18226E" stroke-width="1.75" />
<line x1="263.48" y1="792.86" x2="263.48" y2="774.88" stroke="#18226E" stroke-width="1.75" />
<line x1="266.78" y1="795.16" x2="266.78" y2="776.02" stroke="#18226E" stroke-width="1.75" />
<line x1="270.07" y1="795.92" x2="270.07" y2="776.79" stroke="#18226E" stroke-width="1.75" />
<line x1="273.37" y1="797.84" x2="273.37" y2="778.70" stroke="#18226E" stroke-width="1.75" />
<line x1="276.66" y1="791.33" x2="276.66" y2="772.20" stroke="#18226E" stroke-width="1.75" />
<line x1="279.96" y1="796.69" x2="279.96" y2="777.55" stroke="#18226E" stroke-width="1.75" />
<line x1="283.25" y1="795.92" x2="283.25" y2="776.02" stroke="#18226E" stroke-width="1.75" />
<line x1="286.55" y1="792.86" x2="286.55" y2="773.73" stroke="#18226E" stroke-width="1.75" />
<line x1="289.84" y1="795.16" x2="289.84" y2="776.02" stroke="#18226E" stroke-width="1.75" />
<line x1="293.13" y1="790.18" x2="293.13" y2="771.05" stroke="#18226E" stroke-width="1.75" />
<line x1="296.43" y1="788.27" x2="296.43" y2="769.14" stroke="#18226E" stroke-width="1.75" />
<line x1="299.73" y1="794.01" x2="299.73" y2="774.88" stroke="#18226E" stroke-width="1.75" />
<line x1="303.02" y1="792.10" x2="303.02" y2="772.96" stroke="#18226E" stroke-width="1.75" />
<line x1="306.31" y1="792.10" x2="306.31" y2="773.73" stroke="#18226E" stroke-width="1.75" />
<line x1="309.61" y1="791.33" x2="309.61" y2="772.20" stroke="#18226E" stroke-width="1.75" />
<line x1="312.91" y1="792.10" x2="312.91" y2="772.96" stroke="#18226E" stroke-width="1.75" />
<line x1="316.20" y1="786.36" x2="316.20" y2="767.22" stroke="#18226E" stroke-width="1.75" />
<line x1="319.50" y1="792.86" x2="319.50" y2="773.73" stroke="#18226E" stroke-width="1.75" />
<line x1="322.79" y1="794.01" x2="322.79" y2="774.88" stroke="#18226E" stroke-width="1.75" />
<line x1="326.09" y1="789.04" x2="326.09" y2="769.90" stroke="#18226E" stroke-width="1.75" />
<line x1="329.38" y1="788.27" x2="329.38" y2="769.14" stroke="#18226E" stroke-width="1.75" />
<line x1="332.68" y1="790.18" x2="332.68" y2="771.05" stroke="#18226E" stroke-width="1.75" />
<line x1="335.97" y1="787.50" x2="335.97" y2="768.37" stroke="#18226E" stroke-width="1.75" />
<line x1="339.27" y1="785.21" x2="339.27" y2="765.31" stroke="#18226E" stroke-width="1.75" />
<line x1="342.56" y1="786.36" x2="342.56" y2="766.07" stroke="#18226E" stroke-width="1.75" />
<line x1="345.86" y1="791.33" x2="345.86" y2="771.05" stroke="#18226E" stroke-width="1.75" />
<line x1="349.15" y1="787.50" x2="349.15" y2="767.22" stroke="#18226E" stroke-width="1.75" />
<line x1="352.45" y1="786.36" x2="352.45" y2="766.07" stroke="#18226E" stroke-width="1.75" />
<line x1="355.74" y1="787.50" x2="355.74" y2="767.22" stroke="#18226E" stroke-width="1.75" />
<line x1="359.04" y1="786.36" x2="359.04" y2="766.07" stroke="#18226E" stroke-width="1.75" />
<line x1="362.33" y1="787.50" x2="362.33" y2="768.37" stroke="#18226E" stroke-width="1.75" />
<line x1="365.63" y1="782.53" x2="365.63" y2="761.48" stroke="#18226E" stroke-width="1.75" />
<line x1="368.92" y1="786.36" x2="368.92" y2="765.31" stroke="#18226E" stroke-width="1.75" />
<line x1="372.22" y1="788.27" x2="372.22" y2="767.22" stroke="#18226E" stroke-width="1.75" />
<line x1="375.51" y1="788.27" x2="375.51" y2="768.37" stroke="#18226E" stroke-width="1.75" />
<line x1="378.81" y1="791.33" x2="378.81" y2="769.14" stroke="#18226E" stroke-width="1.75" />
<line x1="52.60" y1="762.59" x2="52.60" y2="725.45" stroke="#F25C18" stroke-width="1.75" />
<line x1="55.90" y1="764.77" x2="55.90" y2="734.68" stroke="#F25C18" stroke-width="1.75" />
<line x1="59.19" y1="777.92" x2="59.19" y2="753.08" stroke="#F25C18" stroke-width="1.75" />
<line x1="62.48" y1="786.25" x2="62.48" y2="762.50" stroke="#F25C18" stroke-width="1.75" />
<line x1="65.78" y1="793.75" x2="65.78" y2="771.25" stroke="#F25C18" stroke-width="1.75" />
<line x1="69.08" y1="802.50" x2="69.08" y2="783.75" stroke="#F25C18" stroke-width="1.75" />
<line x1="72.37" y1="793.75" x2="72.37" y2="772.50" stroke="#F25C18" stroke-width="1.75" />
<line x1="75.67" y1="798.75" x2="75.67" y2="779.50" stroke="#F25C18" stroke-width="1.75" />
<line x1="78.96" y1="805.00" x2="78.96" y2="786.25" stroke="#F25C18" stroke-width="1.75" />
<line x1="82.25" y1="798.75" x2="82.25" y2="780.00" stroke="#F25C18" stroke-width="1.75" />
<line x1="85.55" y1="795.00" x2="85.55" y2="776.25" stroke="#F25C18" stroke-width="1.75" />
<line x1="88.84" y1="795.00" x2="88.84" y2="776.25" stroke="#F25C18" stroke-width="1.75" />
<line x1="92.14" y1="802.50" x2="92.14" y2="785.00" stroke="#F25C18" stroke-width="1.75" />
<line x1="95.44" y1="805.50" x2="95.44" y2="788.75" stroke="#F25C18" stroke-width="1.75" />
<line x1="98.73" y1="802.50" x2="98.73" y2="785.75" stroke="#F25C18" stroke-width="1.75" />
<line x1="102.03" y1="803.75" x2="102.03" y2="787.00" stroke="#F25C18" stroke-width="1.75" />
<line x1="105.32" y1="807.50" x2="105.32" y2="791.25" stroke="#F25C18" stroke-width="1.75" />
<line x1="108.62" y1="820.00" x2="108.62" y2="802.50" stroke="#F25C18" stroke-width="1.75" />
<line x1="111.91" y1="801.25" x2="111.91" y2="785.00" stroke="#F25C18" stroke-width="1.75" />
<line x1="115.21" y1="802.50" x2="115.21" y2="786.25" stroke="#F25C18" stroke-width="1.75" />
<line x1="118.50" y1="814.73" x2="118.50" y2="799.14" stroke="#F25C18" stroke-width="1.75" />
<line x1="121.79" y1="816.38" x2="121.79" y2="801.46" stroke="#F25C18" stroke-width="1.75" />
<line x1="125.09" y1="821.36" x2="125.09" y2="806.43" stroke="#F25C18" stroke-width="1.75" />
<line x1="128.38" y1="816.38" x2="128.38" y2="803.12" stroke="#F25C18" stroke-width="1.75" />
<line x1="131.68" y1="823.02" x2="131.68" y2="809.09" stroke="#F25C18" stroke-width="1.75" />
<line x1="134.97" y1="814.73" x2="134.97" y2="801.46" stroke="#F25C18" stroke-width="1.75" />
<line x1="138.27" y1="816.38" x2="138.27" y2="801.46" stroke="#F25C18" stroke-width="1.75" />
<line x1="141.56" y1="818.04" x2="141.56" y2="803.12" stroke="#F25C18" stroke-width="1.75" />
<line x1="144.86" y1="823.68" x2="144.86" y2="809.75" stroke="#F25C18" stroke-width="1.75" />
<line x1="148.16" y1="827.33" x2="148.16" y2="813.07" stroke="#F25C18" stroke-width="1.75" />
<line x1="151.45" y1="823.02" x2="151.45" y2="809.75" stroke="#F25C18" stroke-width="1.75" />
<line x1="154.75" y1="823.68" x2="154.75" y2="809.75" stroke="#F25C18" stroke-width="1.75" />
<line x1="158.04" y1="823.02" x2="158.04" y2="809.75" stroke="#F25C18" stroke-width="1.75" />
<line x1="161.34" y1="824.68" x2="161.34" y2="811.41" stroke="#F25C18" stroke-width="1.75" />
<line x1="164.63" y1="819.70" x2="164.63" y2="806.43" stroke="#F25C18" stroke-width="1.75" />
<line x1="167.93" y1="832.31" x2="167.93" y2="819.70" stroke="#F25C18" stroke-width="1.75" />
<line x1="171.22" y1="829.65" x2="171.22" y2="816.38" stroke="#F25C18" stroke-width="1.75" />
<line x1="174.51" y1="830.32" x2="174.51" y2="818.04" stroke="#F25C18" stroke-width="1.75" />
<line x1="177.81" y1="832.31" x2="177.81" y2="820.36" stroke="#F25C18" stroke-width="1.75" />
<line x1="181.10" y1="828.99" x2="181.10" y2="816.38" stroke="#F25C18" stroke-width="1.75" />
<line x1="184.40" y1="831.31" x2="184.40" y2="819.70" stroke="#F25C18" stroke-width="1.75" />
<line x1="187.69" y1="833.63" x2="187.69" y2="821.36" stroke="#F25C18" stroke-width="1.75" />
<line x1="190.99" y1="830.32" x2="190.99" y2="818.04" stroke="#F25C18" stroke-width="1.75" />
<line x1="194.28" y1="835.62" x2="194.28" y2="824.68" stroke="#F25C18" stroke-width="1.75" />
<line x1="197.58" y1="826.33" x2="197.58" y2="814.73" stroke="#F25C18" stroke-width="1.75" />
<line x1="200.88" y1="841.26" x2="200.88" y2="830.32" stroke="#F25C18" stroke-width="1.75" />
<line x1="204.17" y1="839.60" x2="204.17" y2="827.99" stroke="#F25C18" stroke-width="1.75" />
<line x1="207.47" y1="839.60" x2="207.47" y2="828.99" stroke="#F25C18" stroke-width="1.75" />
<line x1="210.76" y1="835.62" x2="210.76" y2="824.68" stroke="#F25C18" stroke-width="1.75" />
<line x1="214.05" y1="842.92" x2="214.05" y2="832.31" stroke="#F25C18" stroke-width="1.75" />
<line x1="217.35" y1="842.92" x2="217.35" y2="832.97" stroke="#F25C18" stroke-width="1.75" />
<line x1="220.65" y1="839.60" x2="220.65" y2="828.99" stroke="#F25C18" stroke-width="1.75" />
<line x1="223.94" y1="833.63" x2="223.94" y2="823.02" stroke="#F25C18" stroke-width="1.75" />
<line x1="227.24" y1="847.89" x2="227.24" y2="837.94" stroke="#F25C18" stroke-width="1.75" />
<line x1="230.53" y1="842.92" x2="230.53" y2="832.97" stroke="#F25C18" stroke-width="1.75" />
<line x1="233.83" y1="844.58" x2="233.83" y2="834.63" stroke="#F25C18" stroke-width="1.75" />
<line x1="237.12" y1="848.74" x2="237.12" y2="838.79" stroke="#F25C18" stroke-width="1.75" />
<line x1="240.42" y1="848.74" x2="240.42" y2="838.79" stroke="#F25C18" stroke-width="1.75" />
<line x1="243.71" y1="839.93" x2="243.71" y2="830.37" stroke="#F25C18" stroke-width="1.75" />
<line x1="247.00" y1="841.85" x2="247.00" y2="830.37" stroke="#F25C18" stroke-width="1.75" />
<line x1="250.30" y1="851.42" x2="250.30" y2="843.76" stroke="#F25C18" stroke-width="1.75" />
<line x1="253.59" y1="836.11" x2="253.59" y2="826.54" stroke="#F25C18" stroke-width="1.75" />
<line x1="256.89" y1="847.59" x2="256.89" y2="839.93" stroke="#F25C18" stroke-width="1.75" />
<line x1="260.19" y1="853.33" x2="260.19" y2="845.68" stroke="#F25C18" stroke-width="1.75" />
<line x1="263.48" y1="845.68" x2="263.48" y2="838.02" stroke="#F25C18" stroke-width="1.75" />
<line x1="266.78" y1="847.59" x2="266.78" y2="839.93" stroke="#F25C18" stroke-width="1.75" />
<line x1="270.07" y1="847.59" x2="270.07" y2="839.93" stroke="#F25C18" stroke-width="1.75" />
<line x1="273.37" y1="841.08" x2="273.37" y2="832.28" stroke="#F25C18" stroke-width="1.75" />
<line x1="276.66" y1="849.50" x2="276.66" y2="841.85" stroke="#F25C18" stroke-width="1.75" />
<line x1="279.96" y1="841.85" x2="279.96" y2="832.28" stroke="#F25C18" stroke-width="1.75" />
<line x1="283.25" y1="848.74" x2="283.25" y2="841.08" stroke="#F25C18" stroke-width="1.75" />
<line x1="286.55" y1="849.50" x2="286.55" y2="841.85" stroke="#F25C18" stroke-width="1.75" />
<line x1="289.84" y1="853.33" x2="289.84" y2="845.68" stroke="#F25C18" stroke-width="1.75" />
<line x1="293.13" y1="847.59" x2="293.13" y2="839.93" stroke="#F25C18" stroke-width="1.75" />
<line x1="296.43" y1="859.07" x2="296.43" y2="851.42" stroke="#F25C18" stroke-width="1.75" />
<line x1="299.73" y1="845.68" x2="299.73" y2="838.02" stroke="#F25C18" stroke-width="1.75" />
<line x1="303.02" y1="851.42" x2="303.02" y2="843.76" stroke="#F25C18" stroke-width="1.75" />
<line x1="306.31" y1="845.68" x2="306.31" y2="837.26" stroke="#F25C18" stroke-width="1.75" />
<line x1="309.61" y1="847.59" x2="309.61" y2="839.93" stroke="#F25C18" stroke-width="1.75" />
<line x1="312.91" y1="847.59" x2="312.91" y2="838.79" stroke="#F25C18" stroke-width="1.75" />
<line x1="316.20" y1="857.16" x2="316.20" y2="849.50" stroke="#F25C18" stroke-width="1.75" />
<line x1="319.50" y1="852.56" x2="319.50" y2="845.68" stroke="#F25C18" stroke-width="1.75" />
<line x1="322.79" y1="854.09" x2="322.79" y2="847.59" stroke="#F25C18" stroke-width="1.75" />
<line x1="326.09" y1="852.56" x2="326.09" y2="845.68" stroke="#F25C18" stroke-width="1.75" />
<line x1="329.38" y1="852.56" x2="329.38" y2="845.68" stroke="#F25C18" stroke-width="1.75" />
<line x1="332.68" y1="854.09" x2="332.68" y2="847.59" stroke="#F25C18" stroke-width="1.75" />
<line x1="335.97" y1="855.24" x2="335.97" y2="848.74" stroke="#F25C18" stroke-width="1.75" />
<line x1="339.27" y1="857.92" x2="339.27" y2="851.42" stroke="#F25C18" stroke-width="1.75" />
<line x1="342.56" y1="856.39" x2="342.56" y2="850.27" stroke="#F25C18" stroke-width="1.75" />
<line x1="345.86" y1="853.33" x2="345.86" y2="846.44" stroke="#F25C18" stroke-width="1.75" />
<line x1="349.15" y1="853.33" x2="349.15" y2="846.44" stroke="#F25C18" stroke-width="1.75" />
<line x1="352.45" y1="852.56" x2="352.45" y2="845.68" stroke="#F25C18" stroke-width="1.75" />
<line x1="355.74" y1="855.24" x2="355.74" y2="848.74" stroke="#F25C18" stroke-width="1.75" />
<line x1="359.04" y1="855.63" x2="359.04" y2="849.50" stroke="#F25C18" stroke-width="1.75" />
<line x1="362.33" y1="857.16" x2="362.33" y2="851.42" stroke="#F25C18" stroke-width="1.75" />
<line x1="365.63" y1="864.81" x2="365.63" y2="857.92" stroke="#F25C18" stroke-width="1.75" />
<line x1="368.92" y1="856.39" x2="368.92" y2="850.27" stroke="#F25C18" stroke-width="1.75" />
<line x1="372.22" y1="848.74" x2="372.22" y2="841.85" stroke="#F25C18" stroke-width="1.75" />
<line x1="375.51" y1="852.56" x2="375.51" y2="845.68" stroke="#F25C18" stroke-width="1.75" />
<line x1="378.81" y1="854.09" x2="378.81" y2="847.59" stroke="#F25C18" stroke-width="1.75" />
<line x1="52.60" y1="717.50" x2="52.60" y2="692.50" stroke="#A3C95A" stroke-width="1.75" />
<line x1="55.90" y1="723.75" x2="55.90" y2="711.25" stroke="#A3C95A" stroke-width="1.75" />
<line x1="59.19" y1="731.25" x2="59.19" y2="721.25" stroke="#A3C95A" stroke-width="1.75" />
<line x1="62.48" y1="728.75" x2="62.48" y2="718.75" stroke="#A3C95A" stroke-width="1.75" />
<line x1="65.78" y1="713.75" x2="65.78" y2="704.50" stroke="#A3C95A" stroke-width="1.75" />
<line x1="69.08" y1="710.00" x2="69.08" y2="700.00" stroke="#A3C95A" stroke-width="1.75" />
<line x1="72.37" y1="705.00" x2="72.37" y2="695.75" stroke="#A3C95A" stroke-width="1.75" />
<line x1="75.67" y1="697.50" x2="75.67" y2="687.50" stroke="#A3C95A" stroke-width="1.75" />
<line x1="78.96" y1="702.00" x2="78.96" y2="692.00" stroke="#A3C95A" stroke-width="1.75" />
<line x1="82.25" y1="697.50" x2="82.25" y2="687.50" stroke="#A3C95A" stroke-width="1.75" />
<line x1="85.55" y1="678.75" x2="85.55" y2="668.25" stroke="#A3C95A" stroke-width="1.75" />
<line x1="88.84" y1="688.00" x2="88.84" y2="678.00" stroke="#A3C95A" stroke-width="1.75" />
<line x1="92.14" y1="694.50" x2="92.14" y2="684.50" stroke="#A3C95A" stroke-width="1.75" />
<line x1="95.44" y1="688.25" x2="95.44" y2="678.25" stroke="#A3C95A" stroke-width="1.75" />
<line x1="98.73" y1="689.50" x2="98.73" y2="679.50" stroke="#A3C95A" stroke-width="1.75" />
<line x1="102.03" y1="688.00" x2="102.03" y2="678.00" stroke="#A3C95A" stroke-width="1.75" />
<line x1="105.32" y1="685.00" x2="105.32" y2="674.50" stroke="#A3C95A" stroke-width="1.75" />
<line x1="108.62" y1="689.25" x2="108.62" y2="678.75" stroke="#A3C95A" stroke-width="1.75" />
<line x1="111.91" y1="683.75" x2="111.91" y2="673.25" stroke="#A3C95A" stroke-width="1.75" />
<line x1="115.21" y1="681.25" x2="115.21" y2="670.75" stroke="#A3C95A" stroke-width="1.75" />
<line x1="118.50" y1="684.25" x2="118.50" y2="673.75" stroke="#A3C95A" stroke-width="1.75" />
<line x1="121.79" y1="680.50" x2="121.79" y2="670.00" stroke="#A3C95A" stroke-width="1.75" />
<line x1="125.09" y1="681.75" x2="125.09" y2="671.25" stroke="#A3C95A" stroke-width="1.75" />
<line x1="128.38" y1="683.00" x2="128.38" y2="672.50" stroke="#A3C95A" stroke-width="1.75" />
<line x1="131.68" y1="684.04" x2="131.68" y2="674.09" stroke="#A3C95A" stroke-width="1.75" />
<line x1="134.97" y1="683.04" x2="134.97" y2="673.09" stroke="#A3C95A" stroke-width="1.75" />
<line x1="138.27" y1="682.05" x2="138.27" y2="672.43" stroke="#A3C95A" stroke-width="1.75" />
<line x1="141.56" y1="679.73" x2="141.56" y2="669.78" stroke="#A3C95A" stroke-width="1.75" />
<line x1="144.86" y1="682.05" x2="144.86" y2="672.10" stroke="#A3C95A" stroke-width="1.75" />
<line x1="148.16" y1="680.72" x2="148.16" y2="671.43" stroke="#A3C95A" stroke-width="1.75" />
<line x1="151.45" y1="677.40" x2="151.45" y2="667.12" stroke="#A3C95A" stroke-width="1.75" />
<line x1="154.75" y1="680.72" x2="154.75" y2="670.77" stroke="#A3C95A" stroke-width="1.75" />
<line x1="158.04" y1="678.07" x2="158.04" y2="667.45" stroke="#A3C95A" stroke-width="1.75" />
<line x1="161.34" y1="672.10" x2="161.34" y2="662.15" stroke="#A3C95A" stroke-width="1.75" />
<line x1="164.63" y1="680.72" x2="164.63" y2="670.77" stroke="#A3C95A" stroke-width="1.75" />
<line x1="167.93" y1="674.75" x2="167.93" y2="664.14" stroke="#A3C95A" stroke-width="1.75" />
<line x1="171.22" y1="680.39" x2="171.22" y2="669.78" stroke="#A3C95A" stroke-width="1.75" />
<line x1="174.51" y1="679.73" x2="174.51" y2="669.78" stroke="#A3C95A" stroke-width="1.75" />
<line x1="177.81" y1="673.76" x2="177.81" y2="663.14" stroke="#A3C95A" stroke-width="1.75" />
<line x1="181.10" y1="672.10" x2="181.10" y2="662.15" stroke="#A3C95A" stroke-width="1.75" />
<line x1="184.40" y1="670.44" x2="184.40" y2="659.83" stroke="#A3C95A" stroke-width="1.75" />
<line x1="187.69" y1="673.09" x2="187.69" y2="662.15" stroke="#A3C95A" stroke-width="1.75" />
<line x1="190.99" y1="672.10" x2="190.99" y2="662.15" stroke="#A3C95A" stroke-width="1.75" />
<line x1="194.28" y1="670.44" x2="194.28" y2="660.49" stroke="#A3C95A" stroke-width="1.75" />
<line x1="197.58" y1="669.11" x2="197.58" y2="658.83" stroke="#A3C95A" stroke-width="1.75" />
<line x1="200.88" y1="669.78" x2="200.88" y2="659.16" stroke="#A3C95A" stroke-width="1.75" />
<line x1="204.17" y1="672.10" x2="204.17" y2="661.48" stroke="#A3C95A" stroke-width="1.75" />
<line x1="207.47" y1="668.12" x2="207.47" y2="658.17" stroke="#A3C95A" stroke-width="1.75" />
<line x1="210.76" y1="670.44" x2="210.76" y2="660.49" stroke="#A3C95A" stroke-width="1.75" />
<line x1="214.05" y1="665.46" x2="214.05" y2="654.85" stroke="#A3C95A" stroke-width="1.75" />
<line x1="217.35" y1="667.45" x2="217.35" y2="657.50" stroke="#A3C95A" stroke-width="1.75" />
<line x1="220.65" y1="668.78" x2="220.65" y2="658.17" stroke="#A3C95A" stroke-width="1.75" />
<line x1="223.94" y1="666.46" x2="223.94" y2="655.85" stroke="#A3C95A" stroke-width="1.75" />
<line x1="227.24" y1="670.44" x2="227.24" y2="659.83" stroke="#A3C95A" stroke-width="1.75" />
<line x1="230.53" y1="670.77" x2="230.53" y2="660.82" stroke="#A3C95A" stroke-width="1.75" />
<line x1="233.83" y1="664.14" x2="233.83" y2="653.86" stroke="#A3C95A" stroke-width="1.75" />
<line x1="237.12" y1="662.15" x2="237.12" y2="652.20" stroke="#A3C95A" stroke-width="1.75" />
<line x1="240.42" y1="672.10" x2="240.42" y2="662.15" stroke="#A3C95A" stroke-width="1.75" />
<line x1="243.71" y1="667.12" x2="243.71" y2="656.51" stroke="#A3C95A" stroke-width="1.75" />
<line x1="247.00" y1="666.46" x2="247.00" y2="655.51" stroke="#A3C95A" stroke-width="1.75" />
<line x1="250.30" y1="665.80" x2="250.30" y2="655.85" stroke="#A3C95A" stroke-width="1.75" />
<line x1="253.59" y1="664.80" x2="253.59" y2="654.19" stroke="#A3C95A" stroke-width="1.75" />
<line x1="256.89" y1="667.45" x2="256.89" y2="657.17" stroke="#A3C95A" stroke-width="1.75" />
<line x1="260.19" y1="664.80" x2="260.19" y2="654.19" stroke="#A3C95A" stroke-width="1.75" />
<line x1="263.48" y1="663.81" x2="263.48" y2="653.19" stroke="#A3C95A" stroke-width="1.75" />
<line x1="266.78" y1="663.14" x2="266.78" y2="653.19" stroke="#A3C95A" stroke-width="1.75" />
<line x1="270.07" y1="666.46" x2="270.07" y2="656.51" stroke="#A3C95A" stroke-width="1.75" />
<line x1="273.37" y1="662.48" x2="273.37" y2="652.53" stroke="#A3C95A" stroke-width="1.75" />
<line x1="276.66" y1="659.83" x2="276.66" y2="649.21" stroke="#A3C95A" stroke-width="1.75" />
<line x1="279.96" y1="662.15" x2="279.96" y2="651.53" stroke="#A3C95A" stroke-width="1.75" />
<line x1="283.25" y1="668.12" x2="283.25" y2="657.50" stroke="#A3C95A" stroke-width="1.75" />
<line x1="286.55" y1="664.80" x2="286.55" y2="654.19" stroke="#A3C95A" stroke-width="1.75" />
<line x1="289.84" y1="663.14" x2="289.84" y2="653.19" stroke="#A3C95A" stroke-width="1.75" />
<line x1="293.13" y1="662.15" x2="293.13" y2="651.53" stroke="#A3C95A" stroke-width="1.75" />
<line x1="296.43" y1="663.81" x2="296.43" y2="653.86" stroke="#A3C95A" stroke-width="1.75" />
<line x1="299.73" y1="663.81" x2="299.73" y2="653.19" stroke="#A3C95A" stroke-width="1.75" />
<line x1="303.02" y1="662.15" x2="303.02" y2="652.20" stroke="#A3C95A" stroke-width="1.75" />
<line x1="306.31" y1="670.03" x2="306.31" y2="660.18" stroke="#A3C95A" stroke-width="1.75" />
<line x1="309.61" y1="667.12" x2="309.61" y2="657.27" stroke="#A3C95A" stroke-width="1.75" />
<line x1="312.91" y1="669.26" x2="312.91" y2="659.41" stroke="#A3C95A" stroke-width="1.75" />
<line x1="316.20" y1="669.22" x2="316.20" y2="659.38" stroke="#A3C95A" stroke-width="1.75" />
<line x1="319.50" y1="670.95" x2="319.50" y2="661.10" stroke="#A3C95A" stroke-width="1.75" />
<line x1="322.79" y1="668.21" x2="322.79" y2="658.36" stroke="#A3C95A" stroke-width="1.75" />
<line x1="326.09" y1="663.42" x2="326.09" y2="653.58" stroke="#A3C95A" stroke-width="1.75" />
<line x1="329.38" y1="665.40" x2="329.38" y2="655.55" stroke="#A3C95A" stroke-width="1.75" />
<line x1="332.68" y1="663.00" x2="332.68" y2="653.16" stroke="#A3C95A" stroke-width="1.75" />
<line x1="335.97" y1="665.31" x2="335.97" y2="655.47" stroke="#A3C95A" stroke-width="1.75" />
<line x1="339.27" y1="664.49" x2="339.27" y2="654.64" stroke="#A3C95A" stroke-width="1.75" />
<line x1="342.56" y1="664.86" x2="342.56" y2="655.01" stroke="#A3C95A" stroke-width="1.75" />
<line x1="345.86" y1="670.73" x2="345.86" y2="660.89" stroke="#A3C95A" stroke-width="1.75" />
<line x1="349.15" y1="661.94" x2="349.15" y2="652.09" stroke="#A3C95A" stroke-width="1.75" />
<line x1="352.45" y1="662.77" x2="352.45" y2="652.93" stroke="#A3C95A" stroke-width="1.75" />
<line x1="355.74" y1="662.46" x2="355.74" y2="652.62" stroke="#A3C95A" stroke-width="1.75" />
<line x1="359.04" y1="669.48" x2="359.04" y2="659.63" stroke="#A3C95A" stroke-width="1.75" />
<line x1="362.33" y1="669.32" x2="362.33" y2="659.47" stroke="#A3C95A" stroke-width="1.75" />
<line x1="365.63" y1="666.11" x2="365.63" y2="656.27" stroke="#A3C95A" stroke-width="1.75" />
<line x1="368.92" y1="664.36" x2="368.92" y2="654.52" stroke="#A3C95A" stroke-width="1.75" />
<line x1="372.22" y1="661.43" x2="372.22" y2="651.59" stroke="#A3C95A" stroke-width="1.75" />
<line x1="375.51" y1="653.19" x2="375.51" y2="643.24" stroke="#A3C95A" stroke-width="1.75" />
<line x1="378.81" y1="663.14" x2="378.81" y2="653.19" stroke="#A3C95A" stroke-width="1.75" />
<polyline fill="none" stroke="#18226E" stroke-width="1.75" points="52.00,842.14 53.65,841.24 55.30,840.35 56.94,839.48 58.59,838.61 60.24,837.76 61.88,836.92 63.53,836.09 65.18,835.27 66.83,834.46 68.47,833.66 70.12,832.87 71.77,832.09 73.42,831.33 75.06,830.57 76.71,829.82 78.36,829.08 80.01,828.36 81.66,827.64 83.30,826.93 84.95,826.23 86.60,825.54 88.25,824.86 89.89,824.18 91.54,823.52 93.19,822.86 94.84,822.22 96.48,821.58 98.13,820.95 99.78,820.33 101.42,819.71 103.07,819.11 104.72,818.51 106.37,817.92 108.02,817.34 109.66,816.76 111.31,816.20 112.96,815.64 114.61,815.09 116.25,814.54 117.90,814.00 119.55,813.47 121.19,812.95 122.84,812.43 124.49,811.92 126.14,811.42 127.78,810.92 129.43,810.43 131.08,809.94 132.73,809.47 134.38,808.99 136.02,808.53 137.67,808.07 139.32,807.62 140.97,807.17 142.61,806.73 144.26,806.29 145.91,805.86 147.56,805.44 149.20,805.02 150.85,804.60 152.50,804.20 154.14,803.79 155.79,803.40 157.44,803.00 159.09,802.62 160.74,802.23 162.38,801.86 164.03,801.49 165.68,801.12 167.33,800.76 168.97,800.40 170.62,800.04 172.27,799.70 173.91,799.35 175.56,799.01 177.21,798.68 178.86,798.35 180.50,798.02 182.15,797.70 183.80,797.38 185.45,797.07 187.09,796.76 188.74,796.45 190.39,796.15 192.04,795.85 193.69,795.56 195.33,795.27 196.98,794.98 198.63,794.70 200.28,794.42 201.92,794.15 203.57,793.88 205.22,793.61 206.87,793.34 208.51,793.08 210.16,792.83 211.81,792.57 213.45,792.32 215.10,792.07 216.75,791.83 218.40,791.59 220.05,791.35 221.69,791.12 223.34,790.88 224.99,790.65 226.64,790.43 228.28,790.21 229.93,789.99 231.58,789.77 233.23,789.56 234.87,789.34 236.52,789.14 238.17,788.93 239.82,788.73 241.46,788.53 243.11,788.33 244.76,788.13 246.41,787.94 248.05,787.75 249.70,787.56 251.35,787.38 253.00,787.19 254.64,787.01 256.29,786.84 257.94,786.66 259.59,786.49 261.23,786.31 262.88,786.15 264.53,785.98 266.18,785.81 267.82,785.65 269.47,785.49 271.12,785.33 272.76,785.18 274.41,785.02 276.06,784.87 277.71,784.72 279.36,784.57 281.00,784.43 282.65,784.28 284.30,784.14 285.94,784.00 287.59,783.86 289.24,783.72 290.89,783.59 292.53,783.45 294.18,783.32 295.83,783.19 297.48,783.07 299.12,782.94 300.77,782.81 302.42,782.69 304.07,782.57 305.72,782.45 307.36,782.33 309.01,782.21 310.66,782.10 312.31,781.98 313.95,781.87 315.60,781.76 317.25,781.65 318.90,781.54 320.54,781.44 322.19,781.33 323.84,781.23 325.49,781.13 327.13,781.02 328.78,780.92 330.43,780.83 332.07,780.73 333.72,780.63 335.37,780.54 337.02,780.44 338.67,780.35 340.31,780.26 341.96,780.17 343.61,780.08 345.25,779.99 346.90,779.91 348.55,779.82 350.20,779.74 351.85,779.66 353.49,779.57 355.14,779.49 356.79,779.41 358.44,779.33 360.08,779.26 361.73,779.18 363.38,779.10 365.03,779.03 366.67,778.96 368.32,778.88 369.97,778.81 371.62,778.74 373.26,778.67 374.91,778.60 376.56,778.53 378.20,778.47 379.85,778.40 381.50,778.33"/>
<polyline fill="none" stroke="#F25C18" stroke-width="1.75" points="52.00,769.41 53.65,770.59 55.30,771.75 56.94,772.89 58.59,774.02 60.24,775.13 61.88,776.23 63.53,777.32 65.18,778.39 66.83,779.45 68.47,780.49 70.12,781.52 71.77,782.54 73.42,783.55 75.06,784.54 76.71,785.52 78.36,786.48 80.01,787.44 81.66,788.38 83.30,789.31 84.95,790.23 86.60,791.14 88.25,792.03 89.89,792.92 91.54,793.79 93.19,794.65 94.84,795.50 96.48,796.34 98.13,797.17 99.78,797.99 101.42,798.79 103.07,799.59 104.72,800.38 106.37,801.15 108.02,801.92 109.66,802.68 111.31,803.43 112.96,804.16 114.61,804.89 116.25,805.61 117.90,806.32 119.55,807.02 121.19,807.72 122.84,808.40 124.49,809.07 126.14,809.74 127.78,810.40 129.43,811.04 131.08,811.69 132.73,812.32 134.38,812.94 136.02,813.56 137.67,814.17 139.32,814.77 140.97,815.36 142.61,815.95 144.26,816.52 145.91,817.10 147.56,817.66 149.20,818.21 150.85,818.76 152.50,819.31 154.14,819.84 155.79,820.37 157.44,820.89 159.09,821.40 160.74,821.91 162.38,822.41 164.03,822.91 165.68,823.40 167.33,823.88 168.97,824.36 170.62,824.83 172.27,825.29 173.91,825.75 175.56,826.20 177.21,826.65 178.86,827.09 180.50,827.53 182.15,827.96 183.80,828.38 185.45,828.80 187.09,829.21 188.74,829.62 190.39,830.03 192.04,830.42 193.69,830.82 195.33,831.20 196.98,831.59 198.63,831.97 200.28,832.34 201.92,832.71 203.57,833.07 205.22,833.43 206.87,833.78 208.51,834.13 210.16,834.48 211.81,834.82 213.45,835.16 215.10,835.49 216.75,835.82 218.40,836.14 220.05,836.46 221.69,836.78 223.34,837.09 224.99,837.40 226.64,837.70 228.28,838.00 229.93,838.30 231.58,838.59 233.23,838.88 234.87,839.16 236.52,839.44 238.17,839.72 239.82,839.99 241.46,840.27 243.11,840.53 244.76,840.80 246.41,841.06 248.05,841.31 249.70,841.57 251.35,841.82 253.00,842.06 254.64,842.31 256.29,842.55 257.94,842.79 259.59,843.02 261.23,843.25 262.88,843.48 264.53,843.71 266.18,843.93 267.82,844.15 269.47,844.37 271.12,844.58 272.76,844.80 274.41,845.01 276.06,845.21 277.71,845.42 279.36,845.62 281.00,845.82 282.65,846.01 284.30,846.21 285.94,846.40 287.59,846.58 289.24,846.77 290.89,846.96 292.53,847.14 294.18,847.32 295.83,847.49 297.48,847.67 299.12,847.84 300.77,848.01 302.42,848.18 304.07,848.34 305.72,848.51 307.36,848.67 309.01,848.83 310.66,848.99 312.31,849.14 313.95,849.30 315.60,849.45 317.25,849.60 318.90,849.75 320.54,849.89 322.19,850.03 323.84,850.18 325.49,850.32 327.13,850.46 328.78,850.59 330.43,850.73 332.07,850.86 333.72,850.99 335.37,851.12 337.02,851.25 338.67,851.38 340.31,851.50 341.96,851.63 343.61,851.75 345.25,851.87 346.90,851.99 348.55,852.10 350.20,852.22 351.85,852.33 353.49,852.45 355.14,852.56 356.79,852.67 358.44,852.78 360.08,852.88 361.73,852.99 363.38,853.09 365.03,853.20 366.67,853.30 368.32,853.40 369.97,853.50 371.62,853.60 373.26,853.69 374.91,853.79 376.56,853.88 378.20,853.98 379.85,854.07 381.50,854.16"/>
</g>
<rect x="52.00" y="630.75" width="329.60" height="247.25" fill="none" stroke="#262626" stroke-width="1"/>
<line x1="52.00" y1="878.00" x2="52.00" y2="881.30" stroke="#262626" stroke-width="1" />
<text x="52.00" y="895.20" font-size="12.8" text-anchor="middle" >0.0</text>
<line x1="117.90" y1="878.00" x2="117.90" y2="881.30" stroke="#262626" stroke-width="1" />
<text x="117.90" y="895.20" font-size="12.8" text-anchor="middle" >0.1</text>
<line x1="183.80" y1="878.00" x2="183.80" y2="881.30" stroke="#262626" stroke-width="1" />
<text x="183.80" y="895.20" font-size="12.8" text-anchor="middle" >0.2</text>
<line x1="249.70" y1="878.00" x2="249.70" y2="881.30" stroke="#262626" stroke-width="1" />
<text x="249.70" y="895.20" font-size="12.8" text-anchor="middle" >0.3</text>
<line x1="315.60" y1="878.00" x2="315.60" y2="881.30" stroke="#262626" stroke-width="1" />
<text x="315.60" y="895.20" font-size="12.8" text-anchor="middle" >0.4</text>
<line x1="381.50" y1="878.00" x2="381.50" y2="881.30" stroke="#262626" stroke-width="1" />
<text x="381.50" y="895.20" font-size="12.8" text-anchor="middle" >0.5</text>
<line x1="48.70" y1="866.75" x2="52.00" y2="866.75" stroke="#262626" stroke-width="1" />
<text x="46.30" y="871.25" font-size="12.8" text-anchor="end" >0.00</text>
<line x1="48.70" y1="838.78" x2="52.00" y2="838.78" stroke="#262626" stroke-width="1" />
<text x="46.30" y="843.28" font-size="12.8" text-anchor="end" >0.05</text>
<line x1="48.70" y1="810.81" x2="52.00" y2="810.81" stroke="#262626" stroke-width="1" />
<text x="46.30" y="815.31" font-size="12.8" text-anchor="end" >0.10</text>
<line x1="48.70" y1="782.84" x2="52.00" y2="782.84" stroke="#262626" stroke-width="1" />
<text x="46.30" y="787.34" font-size="12.8" text-anchor="end" >0.15</text>
<line x1="48.70" y1="754.87" x2="52.00" y2="754.87" stroke="#262626" stroke-width="1" />
<text x="46.30" y="759.37" font-size="12.8" text-anchor="end" >0.20</text>
<line x1="48.70" y1="726.90" x2="52.00" y2="726.90" stroke="#262626" stroke-width="1" />
<text x="46.30" y="731.40" font-size="12.8" text-anchor="end" >0.25</text>
<line x1="48.70" y1="698.93" x2="52.00" y2="698.93" stroke="#262626" stroke-width="1" />
<text x="46.30" y="703.43" font-size="12.8" text-anchor="end" >0.30</text>
<line x1="48.70" y1="670.96" x2="52.00" y2="670.96" stroke="#262626" stroke-width="1" />
<text x="46.30" y="675.46" font-size="12.8" text-anchor="end" >0.35</text>
<line x1="48.70" y1="642.99" x2="52.00" y2="642.99" stroke="#262626" stroke-width="1" />
<text x="46.30" y="647.49" font-size="12.8" text-anchor="end" >0.40</text>
<text x="216.80" y="911.00" font-size="12.8" text-anchor="middle" >Time (s)</text>
<text x="11.00" y="754.38" font-size="12.8" text-anchor="middle" transform="rotate(-90 11.0 754.375)">NMF Weight (ARB)</text>
<rect x="304.75" y="637.10" width="70.25" height="59.90" rx="2.5" ry="2.5" fill="#fff" stroke="#d6d6d6" stroke-width="1"/>
<line x1="322.30" y1="641.60" x2="322.30" y2="653.20" stroke="#18226E" stroke-width="1.75" />
<text x="345.20" y="651.10" font-size="12.8" text-anchor="start" ><tspan font-style="italic">W</tspan><tspan font-size="8.96" dy="2.2">0</tspan></text>
<line x1="322.30" y1="660.40" x2="322.30" y2="672.00" stroke="#F25C18" stroke-width="1.75" />
<text x="345.20" y="669.90" font-size="12.8" text-anchor="start" ><tspan font-style="italic">W</tspan><tspan font-size="8.96" dy="2.2">1</tspan></text>
<line x1="322.30" y1="679.20" x2="322.30" y2="690.80" stroke="#A3C95A" stroke-width="1.75" />
<text x="345.20" y="689.70" font-size="12.8" text-anchor="start" >Tot.</text>
</svg>
</body></html>
